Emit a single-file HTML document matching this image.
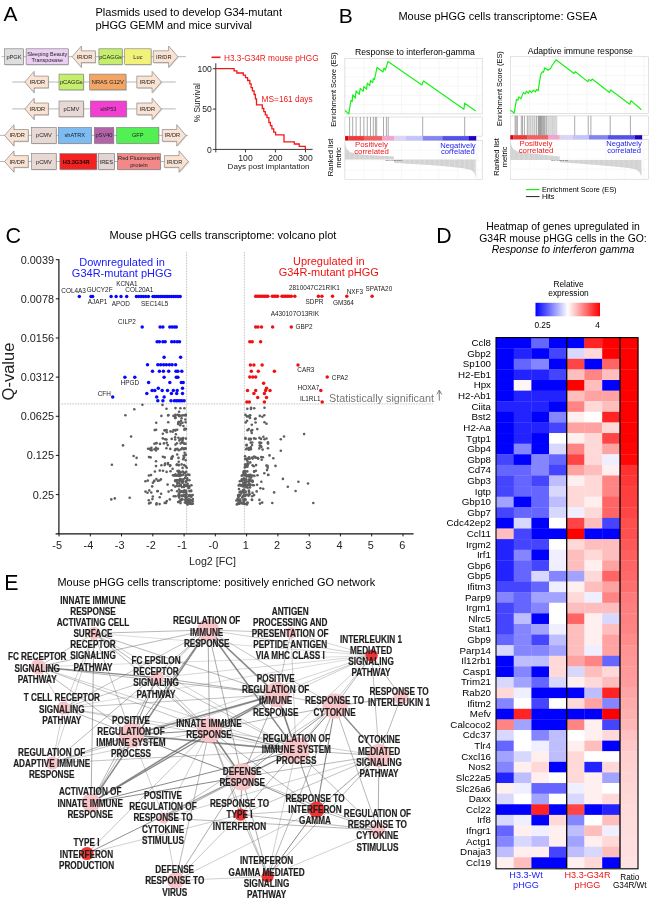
<!DOCTYPE html>
<html><head><meta charset="utf-8"><title>Figure</title>
<style>
html,body{margin:0;padding:0;background:#fff;}
svg{display:block;font-family:"Liberation Sans",sans-serif;}
</style></head><body>
<svg width="651" height="900" viewBox="0 0 651 900">
<rect width="651" height="900" fill="#fff"/>
<g id="panelA">
<text x="3.6" y="21.0" font-size="21">A</text>
<text x="95.5" y="15.5" font-size="11">Plasmids used to develop G34-mutant</text>
<text x="95.5" y="29.1" font-size="11">pHGG GEMM and mice survival</text>
<line x1="1.5" y1="56.7" x2="185.9" y2="56.7" stroke="#888" stroke-width="0.6"/>
<rect x="5.3" y="49.7" width="18.7" height="15.8" fill="#999" opacity="0.45"/>
<rect x="4.6" y="48.8" width="18.7" height="15.8" fill="#dedede" stroke="#777" stroke-width="0.6"/>
<text x="14.0" y="58.7" font-size="5.7" text-anchor="middle" fill="#222">pPGK</text>
<rect x="26.8" y="49.7" width="42.1" height="15.8" fill="#999" opacity="0.45"/>
<rect x="26.1" y="48.8" width="42.1" height="15.8" fill="#ecd0f4" stroke="#777" stroke-width="0.6"/>
<text x="47.2" y="55.5" font-size="5.5" text-anchor="middle" fill="#222">Sleeping Beauty</text>
<text x="47.2" y="62.1" font-size="5.5" text-anchor="middle" fill="#222">Transposase</text>
<polygon points="72.8,57.6 82.1,46.9 82.1,51.7 96.1,51.7 96.1,63.5 82.1,63.5 82.1,68.3" fill="#999" opacity="0.45"/>
<polygon points="72.1,56.7 81.4,46.0 81.4,50.8 95.4,50.8 95.4,62.6 81.4,62.6 81.4,67.4" fill="#fbe3d4" stroke="#777" stroke-width="0.6"/>
<text x="84.5" y="58.7" font-size="5.7" text-anchor="middle" fill="#222">IR/DR</text>
<rect x="99.6" y="49.7" width="23.3" height="15.8" fill="#999" opacity="0.45"/>
<rect x="98.9" y="48.8" width="23.3" height="15.8" fill="#c4ee6c" stroke="#777" stroke-width="0.6"/>
<text x="110.6" y="58.7" font-size="5.7" text-anchor="middle" fill="#222">pCAGGs</text>
<rect x="125.4" y="49.7" width="26.4" height="15.8" fill="#999" opacity="0.45"/>
<rect x="124.7" y="48.8" width="26.4" height="15.8" fill="#f2f27a" stroke="#777" stroke-width="0.6"/>
<text x="137.9" y="58.7" font-size="5.7" text-anchor="middle" fill="#222">Luc</text>
<polygon points="178.6,57.6 169.3,46.9 169.3,51.7 154.0,51.7 154.0,63.5 169.3,63.5 169.3,68.3" fill="#999" opacity="0.45"/>
<polygon points="177.9,56.7 168.6,46.0 168.6,50.8 153.3,50.8 153.3,62.6 168.6,62.6 168.6,67.4" fill="#fbe3d4" stroke="#777" stroke-width="0.6"/>
<text x="163.8" y="58.7" font-size="5.7" text-anchor="middle" fill="#222">IR/DR</text>
<line x1="12.3" y1="82.0" x2="175.7" y2="82.0" stroke="#888" stroke-width="0.6"/>
<polygon points="25.5,82.9 34.8,72.2 34.8,77.0 49.1,77.0 49.1,88.8 34.8,88.8 34.8,93.6" fill="#999" opacity="0.45"/>
<polygon points="24.8,82.0 34.1,71.3 34.1,76.1 48.4,76.1 48.4,87.9 34.1,87.9 34.1,92.7" fill="#fbe3d4" stroke="#777" stroke-width="0.6"/>
<text x="37.4" y="84.0" font-size="5.7" text-anchor="middle" fill="#222">IR/DR</text>
<rect x="59.7" y="75.0" width="24.6" height="15.8" fill="#999" opacity="0.45"/>
<rect x="59.0" y="74.1" width="24.6" height="15.8" fill="#c4ee6c" stroke="#777" stroke-width="0.6"/>
<text x="71.3" y="84.0" font-size="5.7" text-anchor="middle" fill="#222">pCAGGs</text>
<rect x="90.4" y="75.0" width="36.3" height="15.8" fill="#999" opacity="0.45"/>
<rect x="89.7" y="74.1" width="36.3" height="15.8" fill="#f2a564" stroke="#777" stroke-width="0.6"/>
<text x="107.8" y="84.0" font-size="5.7" text-anchor="middle" fill="#222">NRAS G12V</text>
<polygon points="162.1,82.9 152.8,72.2 152.8,77.0 137.5,77.0 137.5,88.8 152.8,88.8 152.8,93.6" fill="#999" opacity="0.45"/>
<polygon points="161.4,82.0 152.1,71.3 152.1,76.1 136.8,76.1 136.8,87.9 152.1,87.9 152.1,92.7" fill="#fbe3d4" stroke="#777" stroke-width="0.6"/>
<text x="147.3" y="84.0" font-size="5.7" text-anchor="middle" fill="#222">IR/DR</text>
<line x1="12.3" y1="108.9" x2="175.7" y2="108.9" stroke="#888" stroke-width="0.6"/>
<polygon points="25.5,109.8 34.8,99.1 34.8,103.9 49.1,103.9 49.1,115.7 34.8,115.7 34.8,120.5" fill="#999" opacity="0.45"/>
<polygon points="24.8,108.9 34.1,98.2 34.1,103.0 48.4,103.0 48.4,114.8 34.1,114.8 34.1,119.6" fill="#fbe3d4" stroke="#777" stroke-width="0.6"/>
<text x="37.4" y="110.9" font-size="5.7" text-anchor="middle" fill="#222">IR/DR</text>
<rect x="59.7" y="101.9" width="24.6" height="15.8" fill="#999" opacity="0.45"/>
<rect x="59.0" y="101.0" width="24.6" height="15.8" fill="#e8d8d4" stroke="#777" stroke-width="0.6"/>
<text x="71.3" y="110.9" font-size="5.7" text-anchor="middle" fill="#222">pCMV</text>
<rect x="91.0" y="101.9" width="36.3" height="15.8" fill="#999" opacity="0.45"/>
<rect x="90.3" y="101.0" width="36.3" height="15.8" fill="#f23fd2" stroke="#777" stroke-width="0.6"/>
<text x="108.4" y="110.9" font-size="5.7" text-anchor="middle" fill="#222">shP53</text>
<polygon points="162.1,109.8 152.8,99.1 152.8,103.9 137.5,103.9 137.5,115.7 152.8,115.7 152.8,120.5" fill="#999" opacity="0.45"/>
<polygon points="161.4,108.9 152.1,98.2 152.1,103.0 136.8,103.0 136.8,114.8 152.1,114.8 152.1,119.6" fill="#fbe3d4" stroke="#777" stroke-width="0.6"/>
<text x="147.3" y="110.9" font-size="5.7" text-anchor="middle" fill="#222">IR/DR</text>
<line x1="0.0" y1="135.4" x2="188.0" y2="135.4" stroke="#888" stroke-width="0.6"/>
<polygon points="5.3,136.3 14.6,125.6 14.6,130.4 29.0,130.4 29.0,142.2 14.6,142.2 14.6,147.0" fill="#999" opacity="0.45"/>
<polygon points="4.6,135.4 13.9,124.7 13.9,129.5 28.3,129.5 28.3,141.3 13.9,141.3 13.9,146.1" fill="#fbe3d4" stroke="#777" stroke-width="0.6"/>
<text x="17.2" y="137.4" font-size="5.7" text-anchor="middle" fill="#222">IR/DR</text>
<rect x="32.3" y="128.4" width="24.6" height="15.8" fill="#999" opacity="0.45"/>
<rect x="31.6" y="127.5" width="24.6" height="15.8" fill="#e8d8d4" stroke="#777" stroke-width="0.6"/>
<text x="43.9" y="137.4" font-size="5.7" text-anchor="middle" fill="#222">pCMV</text>
<rect x="59.1" y="128.4" width="32.9" height="15.8" fill="#999" opacity="0.45"/>
<rect x="58.4" y="127.5" width="32.9" height="15.8" fill="#7cbcf2" stroke="#777" stroke-width="0.6"/>
<text x="74.8" y="137.4" font-size="5.7" text-anchor="middle" fill="#222">shATRX</text>
<rect x="95.0" y="128.4" width="19.4" height="15.8" fill="#999" opacity="0.45"/>
<rect x="94.3" y="127.5" width="19.4" height="15.8" fill="#b363a8" stroke="#777" stroke-width="0.6"/>
<text x="104.0" y="137.4" font-size="5.7" text-anchor="middle" fill="#222">pSV40</text>
<rect x="117.4" y="128.4" width="42.1" height="15.8" fill="#999" opacity="0.45"/>
<rect x="116.7" y="127.5" width="42.1" height="15.8" fill="#52f052" stroke="#777" stroke-width="0.6"/>
<text x="137.8" y="137.4" font-size="5.7" text-anchor="middle" fill="#222">GFP</text>
<polygon points="186.7,136.3 177.4,125.6 177.4,130.4 163.0,130.4 163.0,142.2 177.4,142.2 177.4,147.0" fill="#999" opacity="0.45"/>
<polygon points="186.0,135.4 176.7,124.7 176.7,129.5 162.3,129.5 162.3,141.3 176.7,141.3 176.7,146.1" fill="#fbe3d4" stroke="#777" stroke-width="0.6"/>
<text x="172.4" y="137.4" font-size="5.7" text-anchor="middle" fill="#222">IR/DR</text>
<line x1="0.0" y1="161.5" x2="189.2" y2="161.5" stroke="#888" stroke-width="0.6"/>
<polygon points="5.3,162.4 14.6,151.7 14.6,156.5 29.0,156.5 29.0,168.3 14.6,168.3 14.6,173.1" fill="#999" opacity="0.45"/>
<polygon points="4.6,161.5 13.9,150.8 13.9,155.6 28.3,155.6 28.3,167.4 13.9,167.4 13.9,172.2" fill="#fbe3d4" stroke="#777" stroke-width="0.6"/>
<text x="17.2" y="163.5" font-size="5.7" text-anchor="middle" fill="#222">IR/DR</text>
<rect x="32.3" y="154.5" width="24.6" height="15.8" fill="#999" opacity="0.45"/>
<rect x="31.6" y="153.6" width="24.6" height="15.8" fill="#e8d8d4" stroke="#777" stroke-width="0.6"/>
<text x="43.9" y="163.5" font-size="5.7" text-anchor="middle" fill="#222">pCMV</text>
<rect x="60.6" y="154.5" width="36.9" height="15.8" fill="#999" opacity="0.45"/>
<rect x="59.9" y="153.6" width="36.9" height="15.8" fill="#f22222" stroke="#777" stroke-width="0.6"/>
<text x="76.3" y="163.5" font-size="5.7" text-anchor="middle" font-weight="bold" fill="#200">H3.3G34R</text>
<rect x="99.0" y="154.5" width="16.0" height="15.8" fill="#999" opacity="0.45"/>
<rect x="98.3" y="153.6" width="16.0" height="15.8" fill="#e4d4d4" stroke="#777" stroke-width="0.6"/>
<text x="106.3" y="163.5" font-size="5.7" text-anchor="middle" fill="#222">IRES</text>
<rect x="118.1" y="154.5" width="43.0" height="15.8" fill="#999" opacity="0.45"/>
<rect x="117.4" y="153.6" width="43.0" height="15.8" fill="#f28888" stroke="#777" stroke-width="0.6"/>
<text x="138.9" y="160.3" font-size="5.7" text-anchor="middle" fill="#222">Red Fluorescent</text>
<text x="138.9" y="166.9" font-size="5.7" text-anchor="middle" fill="#222">protein</text>
<polygon points="189.0,162.4 179.7,151.7 179.7,156.5 165.1,156.5 165.1,168.3 179.7,168.3 179.7,173.1" fill="#999" opacity="0.45"/>
<polygon points="188.3,161.5 179.0,150.8 179.0,155.6 164.4,155.6 164.4,167.4 179.0,167.4 179.0,172.2" fill="#fbe3d4" stroke="#777" stroke-width="0.6"/>
<text x="174.5" y="163.5" font-size="5.7" text-anchor="middle" fill="#222">IR/DR</text>
<path d="M215.8,63.3 V149.4 H312.6" fill="none" stroke="#222" stroke-width="0.9"/>
<line x1="212.8" y1="68.7" x2="215.8" y2="68.7" stroke="#222" stroke-width="0.9"/>
<text x="211.8" y="71.8" font-size="8.6" text-anchor="end" fill="#222">100</text>
<line x1="212.8" y1="109.1" x2="215.8" y2="109.1" stroke="#222" stroke-width="0.9"/>
<text x="211.8" y="112.2" font-size="8.6" text-anchor="end" fill="#222">50</text>
<line x1="212.8" y1="149.4" x2="215.8" y2="149.4" stroke="#222" stroke-width="0.9"/>
<text x="211.8" y="152.5" font-size="8.6" text-anchor="end" fill="#222">0</text>
<line x1="215.8" y1="149.4" x2="215.8" y2="152.4" stroke="#222" stroke-width="0.9"/>
<line x1="245.5" y1="149.4" x2="245.5" y2="152.4" stroke="#222" stroke-width="0.9"/>
<text x="245.5" y="160.7" font-size="8.6" text-anchor="middle" fill="#222">100</text>
<line x1="275.4" y1="149.4" x2="275.4" y2="152.4" stroke="#222" stroke-width="0.9"/>
<text x="275.4" y="160.7" font-size="8.6" text-anchor="middle" fill="#222">200</text>
<line x1="305.5" y1="149.4" x2="305.5" y2="152.4" stroke="#222" stroke-width="0.9"/>
<text x="305.5" y="160.7" font-size="8.6" text-anchor="middle" fill="#222">300</text>
<text x="268.5" y="169.4" font-size="8.1" text-anchor="middle" fill="#222">Days post implantation</text>
<text transform="translate(199.8,102.7) rotate(-90)" font-size="8.3" text-anchor="middle" fill="#222">% Survival</text>
<path d="M215.8,68.7 L234.1,68.7 L234.1,70.9 L236.9,70.9 L236.9,73.0 L243.3,73.0 L243.3,75.2 L245.5,75.2 L245.5,77.7 L247.6,77.7 L247.6,80.5 L249.8,80.5 L249.8,83.8 L251.1,83.8 L251.1,87.6 L252.4,87.6 L252.4,90.9 L254.1,90.9 L254.1,94.5 L255.4,94.5 L255.4,98.8 L256.5,98.8 L256.5,104.8 L262.3,104.8 L262.3,108.5 L263.8,108.5 L263.8,111.7 L265.3,111.7 L265.3,114.9 L267.0,114.9 L267.0,117.7 L268.9,117.7 L268.9,122.5 L270.4,122.5 L270.4,125.7 L271.9,125.7 L271.9,128.9 L273.7,128.9 L273.7,132.2 L275.6,132.2 L275.6,134.9 L284.0,134.9 L284.0,141.8 L294.3,141.8 L294.3,144.0 L299.2,144.0 L299.2,146.3 L305.3,146.3 L305.3,149.4" fill="none" stroke="#f01818" stroke-width="1.3" stroke-linejoin="miter"/>
<line x1="211.5" y1="57.3" x2="220.5" y2="57.3" stroke="#f01818" stroke-width="1.6"/>
<text x="224.0" y="60.9" font-size="8.27" fill="#f01818">H3.3-G34R mouse pHGG</text>
<text x="261.6" y="101.6" font-size="8.3" fill="#f01818">MS=161 days</text>
</g>
<g id="panelB">
<text x="338.8" y="23.3" font-size="21">B</text>
<text x="398.4" y="19.5" font-size="11">Mouse pHGG cells transcriptome: GSEA</text>
<text x="414.9" y="55.0" font-size="8.7" text-anchor="middle">Response to interferon-gamma</text>
<line x1="363.9" y1="58.5" x2="363.9" y2="113.9" stroke="#ebebeb" stroke-width="0.4"/>
<line x1="363.9" y1="140.5" x2="363.9" y2="179.7" stroke="#ebebeb" stroke-width="0.4"/>
<line x1="382.7" y1="58.5" x2="382.7" y2="113.9" stroke="#ebebeb" stroke-width="0.4"/>
<line x1="382.7" y1="140.5" x2="382.7" y2="179.7" stroke="#ebebeb" stroke-width="0.4"/>
<line x1="401.5" y1="58.5" x2="401.5" y2="113.9" stroke="#ebebeb" stroke-width="0.4"/>
<line x1="401.5" y1="140.5" x2="401.5" y2="179.7" stroke="#ebebeb" stroke-width="0.4"/>
<line x1="420.3" y1="58.5" x2="420.3" y2="113.9" stroke="#ebebeb" stroke-width="0.4"/>
<line x1="420.3" y1="140.5" x2="420.3" y2="179.7" stroke="#ebebeb" stroke-width="0.4"/>
<line x1="439.1" y1="58.5" x2="439.1" y2="113.9" stroke="#ebebeb" stroke-width="0.4"/>
<line x1="439.1" y1="140.5" x2="439.1" y2="179.7" stroke="#ebebeb" stroke-width="0.4"/>
<line x1="457.9" y1="58.5" x2="457.9" y2="113.9" stroke="#ebebeb" stroke-width="0.4"/>
<line x1="457.9" y1="140.5" x2="457.9" y2="179.7" stroke="#ebebeb" stroke-width="0.4"/>
<line x1="476.7" y1="58.5" x2="476.7" y2="113.9" stroke="#ebebeb" stroke-width="0.4"/>
<line x1="476.7" y1="140.5" x2="476.7" y2="179.7" stroke="#ebebeb" stroke-width="0.4"/>
<line x1="344.9" y1="67.8" x2="482.2" y2="67.8" stroke="#ebebeb" stroke-width="0.4"/>
<line x1="344.9" y1="77.0" x2="482.2" y2="77.0" stroke="#ebebeb" stroke-width="0.4"/>
<line x1="344.9" y1="86.2" x2="482.2" y2="86.2" stroke="#ebebeb" stroke-width="0.4"/>
<line x1="344.9" y1="95.4" x2="482.2" y2="95.4" stroke="#ebebeb" stroke-width="0.4"/>
<line x1="344.9" y1="104.7" x2="482.2" y2="104.7" stroke="#ebebeb" stroke-width="0.4"/>
<line x1="344.9" y1="150.3" x2="482.2" y2="150.3" stroke="#ebebeb" stroke-width="0.4"/>
<line x1="344.9" y1="160.1" x2="482.2" y2="160.1" stroke="#ebebeb" stroke-width="0.4"/>
<line x1="344.9" y1="169.9" x2="482.2" y2="169.9" stroke="#ebebeb" stroke-width="0.4"/>
<rect x="344.9" y="58.5" width="137.3" height="55.4" fill="none" stroke="#c4c4c4" stroke-width="0.5"/>
<rect x="344.9" y="117.0" width="137.3" height="19.1" fill="none" stroke="#c4c4c4" stroke-width="0.5"/>
<rect x="344.9" y="140.5" width="137.3" height="39.2" fill="none" stroke="#c4c4c4" stroke-width="0.5"/>
<path d="M345.1,159.6 L345.1,142.6 L345.9,146.5 L347.2,149.7 L350.4,152.3 L356.1,153.8 L366.6,154.9 L382.2,155.7 L394.0,156.4 L394.0,159.6 L394.0,162.7 L408.3,163.8 L429.2,165.1 L447.5,166.6 L463.2,168.2 L471.0,170.0 L474.1,172.6 L475.7,177.6 L475.7,159.6 Z" fill="#c4c4c4"/>
<path d="M345.74,140.5V179.7M346.99,140.5V179.7M348.24,140.5V179.7M349.49,140.5V179.7M350.74,140.5V179.7M351.99,140.5V179.7M353.24,140.5V179.7M354.49,140.5V179.7M355.74,140.5V179.7M356.99,140.5V179.7M358.24,140.5V179.7M359.49,140.5V179.7M360.74,140.5V179.7M361.99,140.5V179.7M363.24,140.5V179.7M364.49,140.5V179.7M365.74,140.5V179.7M366.99,140.5V179.7M368.24,140.5V179.7M369.49,140.5V179.7M370.74,140.5V179.7M371.99,140.5V179.7M373.24,140.5V179.7M374.49,140.5V179.7M375.74,140.5V179.7M376.99,140.5V179.7M378.24,140.5V179.7M379.49,140.5V179.7M380.74,140.5V179.7M381.99,140.5V179.7M383.24,140.5V179.7M384.49,140.5V179.7M385.74,140.5V179.7M386.99,140.5V179.7M388.24,140.5V179.7M389.49,140.5V179.7M390.74,140.5V179.7M391.99,140.5V179.7M393.24,140.5V179.7M394.49,140.5V179.7M395.74,140.5V179.7M396.99,140.5V179.7M398.24,140.5V179.7M399.49,140.5V179.7M400.74,140.5V179.7M401.99,140.5V179.7M403.24,140.5V179.7M404.49,140.5V179.7M405.74,140.5V179.7M406.99,140.5V179.7M408.24,140.5V179.7M409.49,140.5V179.7M410.74,140.5V179.7M411.99,140.5V179.7M413.24,140.5V179.7M414.49,140.5V179.7M415.74,140.5V179.7M416.99,140.5V179.7M418.24,140.5V179.7M419.49,140.5V179.7M420.74,140.5V179.7M421.99,140.5V179.7M423.24,140.5V179.7M424.49,140.5V179.7M425.74,140.5V179.7M426.99,140.5V179.7M428.24,140.5V179.7M429.49,140.5V179.7M430.74,140.5V179.7M431.99,140.5V179.7M433.24,140.5V179.7M434.49,140.5V179.7M435.74,140.5V179.7M436.99,140.5V179.7M438.24,140.5V179.7M439.49,140.5V179.7M440.74,140.5V179.7M441.99,140.5V179.7M443.24,140.5V179.7M444.49,140.5V179.7M445.74,140.5V179.7M446.99,140.5V179.7M448.24,140.5V179.7M449.49,140.5V179.7M450.74,140.5V179.7M451.99,140.5V179.7M453.24,140.5V179.7M454.49,140.5V179.7M455.74,140.5V179.7M456.99,140.5V179.7M458.24,140.5V179.7M459.49,140.5V179.7M460.74,140.5V179.7M461.99,140.5V179.7M463.24,140.5V179.7M464.49,140.5V179.7M465.74,140.5V179.7M466.99,140.5V179.7M468.24,140.5V179.7M469.49,140.5V179.7M470.74,140.5V179.7M471.99,140.5V179.7M473.24,140.5V179.7M474.49,140.5V179.7M475.74,140.5V179.7" stroke="#fff" stroke-width="0.45" opacity="0.85" fill="none"/>
<text x="394.0" y="160.5" font-size="2.2" text-anchor="middle" fill="#333">Zero cross at 190</text>
<rect x="345.14" y="136.1" width="3.18" height="4.4" fill="#d80000"/>
<rect x="348.28" y="136.1" width="15.72" height="4.4" fill="#ee3a3a"/>
<rect x="363.94" y="136.1" width="18.33" height="4.4" fill="#f26060"/>
<rect x="382.22" y="136.1" width="11.80" height="4.4" fill="#f2a4cc"/>
<rect x="393.97" y="136.1" width="11.80" height="4.4" fill="#dcd4f8"/>
<rect x="405.72" y="136.1" width="17.02" height="4.4" fill="#c4c4fc"/>
<rect x="422.69" y="136.1" width="19.63" height="4.4" fill="#8484f2"/>
<rect x="442.27" y="136.1" width="26.16" height="4.4" fill="#5252e8"/>
<rect x="468.38" y="136.1" width="7.88" height="4.4" fill="#2000c4"/>
<path d="M349.6,117.0V136.1M352.7,117.0V136.1M356.1,117.0V136.1M360.3,117.0V136.1M363.9,117.0V136.1M367.3,117.0V136.1M370.5,117.0V136.1M373.3,117.0V136.1M375.4,117.0V136.1M376.7,117.0V136.1M383.5,117.0V136.1M386.4,117.0V136.1M388.2,117.0V136.1M422.7,117.0V136.1M464.7,117.0V136.1" stroke="#222" stroke-width="0.45" fill="none" opacity="0.85"/>
<path d="M345.1,110.5 L348.8,113.9 L350.9,100.6 L352.2,101.6 L352.7,94.8 L355.3,98.0 L356.1,90.9 L359.2,94.3 L360.3,88.3 L363.2,91.4 L363.9,86.5 L366.6,89.1 L367.3,83.1 L369.7,85.7 L370.5,80.5 L372.6,82.6 L373.3,78.6 L374.4,79.7 L375.7,73.9 L377.0,67.4 L383.0,71.9 L384.0,68.2 L385.4,70.0 L386.7,65.6 L388.0,61.4 L421.9,84.9 L423.5,81.0 L463.9,109.2 L464.7,103.2 L475.7,111.0" fill="none" stroke="#14f414" stroke-width="1.2" stroke-linejoin="round"/>
<text transform="translate(335.7,89.5) rotate(-90)" font-size="7.3" text-anchor="middle" fill="#000">Enrichment Score (ES)</text>
<text transform="translate(333.4,157.5) rotate(-90)" font-size="7.6" text-anchor="middle" fill="#000">Ranked list</text>
<text transform="translate(341.0,157.5) rotate(-90)" font-size="7.6" text-anchor="middle" fill="#000">metric</text>
<text x="371.5" y="147.0" font-size="7.8" text-anchor="middle" fill="#f01818">Positively</text>
<text x="371.5" y="154.1" font-size="7.8" text-anchor="middle" fill="#f01818">correlated</text>
<text x="457.9" y="147.6" font-size="7.6" text-anchor="middle" fill="#2222ee">Negatively</text>
<text x="457.9" y="154.4" font-size="7.6" text-anchor="middle" fill="#2222ee">correlated</text>
<text x="580.3" y="54.2" font-size="8.7" text-anchor="middle">Adaptive immune response</text>
<line x1="529.6" y1="56.8" x2="529.6" y2="113.5" stroke="#ebebeb" stroke-width="0.4"/>
<line x1="529.6" y1="139.4" x2="529.6" y2="179.3" stroke="#ebebeb" stroke-width="0.4"/>
<line x1="548.6" y1="56.8" x2="548.6" y2="113.5" stroke="#ebebeb" stroke-width="0.4"/>
<line x1="548.6" y1="139.4" x2="548.6" y2="179.3" stroke="#ebebeb" stroke-width="0.4"/>
<line x1="567.7" y1="56.8" x2="567.7" y2="113.5" stroke="#ebebeb" stroke-width="0.4"/>
<line x1="567.7" y1="139.4" x2="567.7" y2="179.3" stroke="#ebebeb" stroke-width="0.4"/>
<line x1="586.7" y1="56.8" x2="586.7" y2="113.5" stroke="#ebebeb" stroke-width="0.4"/>
<line x1="586.7" y1="139.4" x2="586.7" y2="179.3" stroke="#ebebeb" stroke-width="0.4"/>
<line x1="605.8" y1="56.8" x2="605.8" y2="113.5" stroke="#ebebeb" stroke-width="0.4"/>
<line x1="605.8" y1="139.4" x2="605.8" y2="179.3" stroke="#ebebeb" stroke-width="0.4"/>
<line x1="624.8" y1="56.8" x2="624.8" y2="113.5" stroke="#ebebeb" stroke-width="0.4"/>
<line x1="624.8" y1="139.4" x2="624.8" y2="179.3" stroke="#ebebeb" stroke-width="0.4"/>
<line x1="643.8" y1="56.8" x2="643.8" y2="113.5" stroke="#ebebeb" stroke-width="0.4"/>
<line x1="643.8" y1="139.4" x2="643.8" y2="179.3" stroke="#ebebeb" stroke-width="0.4"/>
<line x1="510.3" y1="66.3" x2="648.3" y2="66.3" stroke="#ebebeb" stroke-width="0.4"/>
<line x1="510.3" y1="75.7" x2="648.3" y2="75.7" stroke="#ebebeb" stroke-width="0.4"/>
<line x1="510.3" y1="85.1" x2="648.3" y2="85.1" stroke="#ebebeb" stroke-width="0.4"/>
<line x1="510.3" y1="94.6" x2="648.3" y2="94.6" stroke="#ebebeb" stroke-width="0.4"/>
<line x1="510.3" y1="104.0" x2="648.3" y2="104.0" stroke="#ebebeb" stroke-width="0.4"/>
<line x1="510.3" y1="149.4" x2="648.3" y2="149.4" stroke="#ebebeb" stroke-width="0.4"/>
<line x1="510.3" y1="159.3" x2="648.3" y2="159.3" stroke="#ebebeb" stroke-width="0.4"/>
<line x1="510.3" y1="169.3" x2="648.3" y2="169.3" stroke="#ebebeb" stroke-width="0.4"/>
<rect x="510.3" y="56.8" width="138.0" height="56.6" fill="none" stroke="#c4c4c4" stroke-width="0.5"/>
<rect x="510.3" y="115.9" width="138.0" height="19.3" fill="none" stroke="#c4c4c4" stroke-width="0.5"/>
<rect x="510.3" y="139.4" width="138.0" height="39.8" fill="none" stroke="#c4c4c4" stroke-width="0.5"/>
<path d="M510.3,160.0 L510.3,139.9 L511.3,145.1 L513.0,148.8 L516.7,151.3 L523.1,152.5 L537.0,154.0 L549.4,155.5 L559.8,156.5 L559.8,160.0 L559.8,162.2 L574.1,163.2 L593.9,164.7 L613.7,166.4 L628.5,167.9 L635.9,169.6 L639.4,172.1 L641.4,176.5 L641.4,160.0 Z" fill="#c4c4c4"/>
<path d="M510.88,139.4V179.3M512.13,139.4V179.3M513.38,139.4V179.3M514.63,139.4V179.3M515.88,139.4V179.3M517.13,139.4V179.3M518.38,139.4V179.3M519.63,139.4V179.3M520.88,139.4V179.3M522.13,139.4V179.3M523.38,139.4V179.3M524.63,139.4V179.3M525.88,139.4V179.3M527.13,139.4V179.3M528.38,139.4V179.3M529.63,139.4V179.3M530.88,139.4V179.3M532.13,139.4V179.3M533.38,139.4V179.3M534.63,139.4V179.3M535.88,139.4V179.3M537.13,139.4V179.3M538.38,139.4V179.3M539.63,139.4V179.3M540.88,139.4V179.3M542.13,139.4V179.3M543.38,139.4V179.3M544.63,139.4V179.3M545.88,139.4V179.3M547.13,139.4V179.3M548.38,139.4V179.3M549.63,139.4V179.3M550.88,139.4V179.3M552.13,139.4V179.3M553.38,139.4V179.3M554.63,139.4V179.3M555.88,139.4V179.3M557.13,139.4V179.3M558.38,139.4V179.3M559.63,139.4V179.3M560.88,139.4V179.3M562.13,139.4V179.3M563.38,139.4V179.3M564.63,139.4V179.3M565.88,139.4V179.3M567.13,139.4V179.3M568.38,139.4V179.3M569.63,139.4V179.3M570.88,139.4V179.3M572.13,139.4V179.3M573.38,139.4V179.3M574.63,139.4V179.3M575.88,139.4V179.3M577.13,139.4V179.3M578.38,139.4V179.3M579.63,139.4V179.3M580.88,139.4V179.3M582.13,139.4V179.3M583.38,139.4V179.3M584.63,139.4V179.3M585.88,139.4V179.3M587.13,139.4V179.3M588.38,139.4V179.3M589.63,139.4V179.3M590.88,139.4V179.3M592.13,139.4V179.3M593.38,139.4V179.3M594.63,139.4V179.3M595.88,139.4V179.3M597.13,139.4V179.3M598.38,139.4V179.3M599.63,139.4V179.3M600.88,139.4V179.3M602.13,139.4V179.3M603.38,139.4V179.3M604.63,139.4V179.3M605.88,139.4V179.3M607.13,139.4V179.3M608.38,139.4V179.3M609.63,139.4V179.3M610.88,139.4V179.3M612.13,139.4V179.3M613.38,139.4V179.3M614.63,139.4V179.3M615.88,139.4V179.3M617.13,139.4V179.3M618.38,139.4V179.3M619.63,139.4V179.3M620.88,139.4V179.3M622.13,139.4V179.3M623.38,139.4V179.3M624.63,139.4V179.3M625.88,139.4V179.3M627.13,139.4V179.3M628.38,139.4V179.3M629.63,139.4V179.3M630.88,139.4V179.3M632.13,139.4V179.3M633.38,139.4V179.3M634.63,139.4V179.3M635.88,139.4V179.3M637.13,139.4V179.3M638.38,139.4V179.3M639.63,139.4V179.3M640.88,139.4V179.3" stroke="#fff" stroke-width="0.45" opacity="0.85" fill="none"/>
<text x="559.8" y="160.9" font-size="2.2" text-anchor="middle" fill="#333">Zero cross at 190</text>
<rect x="510.28" y="135.2" width="3.27" height="4.2" fill="#d80000"/>
<rect x="513.50" y="135.2" width="13.65" height="4.2" fill="#ee3a3a"/>
<rect x="527.10" y="135.2" width="21.07" height="4.2" fill="#f26060"/>
<rect x="548.13" y="135.2" width="11.68" height="4.2" fill="#f2a4cc"/>
<rect x="559.75" y="135.2" width="13.16" height="4.2" fill="#dcd4f8"/>
<rect x="572.86" y="135.2" width="16.13" height="4.2" fill="#c4c4fc"/>
<rect x="588.94" y="135.2" width="18.60" height="4.2" fill="#8484f2"/>
<rect x="607.49" y="135.2" width="27.26" height="4.2" fill="#5252e8"/>
<rect x="634.69" y="135.2" width="7.47" height="4.2" fill="#2000c4"/>
<path d="M515.1,115.9V135.2M516.2,115.9V135.2M517.4,115.9V135.2M521.3,115.9V135.2M522.5,115.9V135.2M524.4,115.9V135.2M527.3,115.9V135.2M529.0,115.9V135.2M530.9,115.9V135.2M532.9,115.9V135.2M534.8,115.9V135.2M536.6,115.9V135.2M538.3,115.9V135.2M539.0,115.9V135.2M539.7,115.9V135.2M540.6,115.9V135.2M541.3,115.9V135.2M542.2,115.9V135.2M543.2,115.9V135.2M544.1,115.9V135.2M545.0,115.9V135.2M546.4,115.9V135.2M574.7,115.9V135.2M588.2,115.9V135.2M590.9,115.9V135.2M610.2,115.9V135.2M630.4,115.9V135.2" stroke="#222" stroke-width="0.45" fill="none" opacity="0.85"/>
<path d="M547.6,115.9V135.2M548.4,115.9V135.2M549.2,115.9V135.2M550.1,115.9V135.2M550.9,115.9V135.2M551.8,115.9V135.2M552.6,115.9V135.2M553.4,115.9V135.2M554.3,115.9V135.2M555.1,115.9V135.2M556.0,115.9V135.2M556.8,115.9V135.2" stroke="#222" stroke-width="0.4" fill="none" opacity="0.4"/>
<path d="M510.3,110.0 L514.2,113.0 L516.5,99.4 L517.9,100.1 L518.9,96.9 L520.9,98.9 L523.4,92.4 L525.1,93.9 L526.4,91.2 L528.3,93.2 L529.6,90.7 L531.6,92.7 L533.3,90.2 L535.3,91.9 L536.5,89.5 L538.2,90.7 L539.5,82.0 L540.7,74.6 L542.4,71.7 L543.4,72.2 L544.9,67.7 L548.1,70.2 L550.6,68.4 L551.8,66.0 L556.0,59.8 L574.1,73.4 L575.3,71.7 L587.7,81.6 L588.9,79.6 L590.9,80.8 L592.2,79.1 L609.5,92.4 L610.7,90.0 L629.7,104.3 L631.0,100.6 L641.4,109.8" fill="none" stroke="#14f414" stroke-width="1.2" stroke-linejoin="round"/>
<text transform="translate(501.6,88.6) rotate(-90)" font-size="7.3" text-anchor="middle" fill="#000">Enrichment Score (ES)</text>
<text transform="translate(499.4,156.9) rotate(-90)" font-size="7.6" text-anchor="middle" fill="#000">Ranked list</text>
<text transform="translate(506.6,156.9) rotate(-90)" font-size="7.6" text-anchor="middle" fill="#000">metric</text>
<text x="536.0" y="145.9" font-size="7.8" text-anchor="middle" fill="#f01818">Positively</text>
<text x="536.0" y="152.5" font-size="7.8" text-anchor="middle" fill="#f01818">correlated</text>
<text x="624.1" y="146.4" font-size="7.6" text-anchor="middle" fill="#2222ee">Negatively</text>
<text x="624.1" y="152.8" font-size="7.6" text-anchor="middle" fill="#2222ee">correlated</text>
<line x1="525.9" y1="189.6" x2="539.5" y2="189.6" stroke="#14f414" stroke-width="1.2"/>
<line x1="525.9" y1="196.6" x2="539.5" y2="196.6" stroke="#222" stroke-width="1"/>
<text x="541.9" y="192.4" font-size="7.3">Enrichment Score (ES)</text>
<text x="541.9" y="199.3" font-size="7.3">Hits</text>
</g>
<g id="panelC">
<text x="5.4" y="243.2" font-size="21.5">C</text>
<text x="109.5" y="238.8" font-size="11">Mouse pHGG cells transcriptome: volcano plot</text>
<path d="M58.9,259.2 V533.8 M55.6,533.8 H413.6" fill="none" stroke="#151515" stroke-width="1.2"/>
<line x1="55.8" y1="259.7" x2="59" y2="259.7" stroke="#151515" stroke-width="1"/>
<text x="54.0" y="263.6" font-size="10.9" text-anchor="end" fill="#222">0.0039</text>
<line x1="55.8" y1="298.8" x2="59" y2="298.8" stroke="#151515" stroke-width="1"/>
<text x="54.0" y="302.7" font-size="10.9" text-anchor="end" fill="#222">0.0078</text>
<line x1="55.8" y1="338.0" x2="59" y2="338.0" stroke="#151515" stroke-width="1"/>
<text x="54.0" y="341.9" font-size="10.9" text-anchor="end" fill="#222">0.0156</text>
<line x1="55.8" y1="377.1" x2="59" y2="377.1" stroke="#151515" stroke-width="1"/>
<text x="54.0" y="381.0" font-size="10.9" text-anchor="end" fill="#222">0.0312</text>
<line x1="55.8" y1="416.3" x2="59" y2="416.3" stroke="#151515" stroke-width="1"/>
<text x="54.0" y="420.2" font-size="10.9" text-anchor="end" fill="#222">0.0625</text>
<line x1="55.8" y1="455.4" x2="59" y2="455.4" stroke="#151515" stroke-width="1"/>
<text x="54.0" y="459.3" font-size="10.9" text-anchor="end" fill="#222">0.125</text>
<line x1="55.8" y1="494.6" x2="59" y2="494.6" stroke="#151515" stroke-width="1"/>
<text x="54.0" y="498.5" font-size="10.9" text-anchor="end" fill="#222">0.25</text>
<line x1="59.0" y1="533.8" x2="59.0" y2="536.4" stroke="#151515" stroke-width="1"/>
<text x="57.1" y="549.4" font-size="10.9" text-anchor="middle" fill="#222">-5</text>
<line x1="90.3" y1="533.8" x2="90.3" y2="536.4" stroke="#151515" stroke-width="1"/>
<text x="88.4" y="549.4" font-size="10.9" text-anchor="middle" fill="#222">-4</text>
<line x1="121.5" y1="533.8" x2="121.5" y2="536.4" stroke="#151515" stroke-width="1"/>
<text x="119.6" y="549.4" font-size="10.9" text-anchor="middle" fill="#222">-3</text>
<line x1="152.8" y1="533.8" x2="152.8" y2="536.4" stroke="#151515" stroke-width="1"/>
<text x="150.9" y="549.4" font-size="10.9" text-anchor="middle" fill="#222">-2</text>
<line x1="184.1" y1="533.8" x2="184.1" y2="536.4" stroke="#151515" stroke-width="1"/>
<text x="182.2" y="549.4" font-size="10.9" text-anchor="middle" fill="#222">-1</text>
<line x1="215.3" y1="533.8" x2="215.3" y2="536.4" stroke="#151515" stroke-width="1"/>
<text x="213.4" y="549.4" font-size="10.9" text-anchor="middle" fill="#222">-0</text>
<line x1="246.6" y1="533.8" x2="246.6" y2="536.4" stroke="#151515" stroke-width="1"/>
<text x="245.8" y="549.4" font-size="10.9" text-anchor="middle" fill="#222">1</text>
<line x1="277.9" y1="533.8" x2="277.9" y2="536.4" stroke="#151515" stroke-width="1"/>
<text x="277.1" y="549.4" font-size="10.9" text-anchor="middle" fill="#222">2</text>
<line x1="309.2" y1="533.8" x2="309.2" y2="536.4" stroke="#151515" stroke-width="1"/>
<text x="308.4" y="549.4" font-size="10.9" text-anchor="middle" fill="#222">3</text>
<line x1="340.4" y1="533.8" x2="340.4" y2="536.4" stroke="#151515" stroke-width="1"/>
<text x="339.6" y="549.4" font-size="10.9" text-anchor="middle" fill="#222">4</text>
<line x1="371.7" y1="533.8" x2="371.7" y2="536.4" stroke="#151515" stroke-width="1"/>
<text x="370.9" y="549.4" font-size="10.9" text-anchor="middle" fill="#222">5</text>
<line x1="403.0" y1="533.8" x2="403.0" y2="536.4" stroke="#151515" stroke-width="1"/>
<text x="402.2" y="549.4" font-size="10.9" text-anchor="middle" fill="#222">6</text>
<text x="212.5" y="564.5" font-size="10.7" text-anchor="middle" fill="#222">Log2 [FC]</text>
<text transform="translate(14.3,371.5) rotate(-90)" font-size="16.5" text-anchor="middle" fill="#222">Q-value</text>
<line x1="186.6" y1="252" x2="186.6" y2="533.8" stroke="#a8a8a8" stroke-width="0.8" stroke-dasharray="0.8,0.8"/>
<line x1="244.4" y1="252" x2="244.4" y2="533.8" stroke="#a8a8a8" stroke-width="0.8" stroke-dasharray="0.8,0.8"/>
<line x1="59" y1="403.9" x2="433" y2="403.9" stroke="#a8a8a8" stroke-width="0.8" stroke-dasharray="0.8,0.8"/>
<g fill="#5e5e5e"><circle cx="149.0" cy="457.0" r="1.3"/><circle cx="164.6" cy="430.3" r="1.3"/><circle cx="185.3" cy="419.5" r="1.3"/><circle cx="156.4" cy="479.0" r="1.3"/><circle cx="180.5" cy="475.1" r="1.3"/><circle cx="186.0" cy="429.0" r="1.3"/><circle cx="165.1" cy="463.6" r="1.3"/><circle cx="136.6" cy="457.9" r="1.3"/><circle cx="177.1" cy="491.3" r="1.3"/><circle cx="175.2" cy="486.6" r="1.3"/><circle cx="166.5" cy="408.7" r="1.3"/><circle cx="161.4" cy="415.9" r="1.3"/><circle cx="187.6" cy="500.2" r="1.3"/><circle cx="184.4" cy="485.8" r="1.3"/><circle cx="182.5" cy="422.8" r="1.3"/><circle cx="178.1" cy="502.1" r="1.3"/><circle cx="170.5" cy="431.4" r="1.3"/><circle cx="173.6" cy="430.0" r="1.3"/><circle cx="179.0" cy="415.0" r="1.3"/><circle cx="186.9" cy="501.2" r="1.3"/><circle cx="166.6" cy="430.1" r="1.3"/><circle cx="175.1" cy="437.3" r="1.3"/><circle cx="156.1" cy="429.8" r="1.3"/><circle cx="179.1" cy="411.8" r="1.3"/><circle cx="165.1" cy="439.2" r="1.3"/><circle cx="179.4" cy="416.1" r="1.3"/><circle cx="166.6" cy="471.9" r="1.3"/><circle cx="184.0" cy="457.5" r="1.3"/><circle cx="148.1" cy="448.8" r="1.3"/><circle cx="182.4" cy="482.4" r="1.3"/><circle cx="189.4" cy="480.2" r="1.3"/><circle cx="183.6" cy="443.1" r="1.3"/><circle cx="152.9" cy="482.8" r="1.3"/><circle cx="151.4" cy="447.7" r="1.3"/><circle cx="150.6" cy="457.4" r="1.3"/><circle cx="184.0" cy="472.7" r="1.3"/><circle cx="179.0" cy="480.1" r="1.3"/><circle cx="185.8" cy="415.0" r="1.3"/><circle cx="181.6" cy="479.5" r="1.3"/><circle cx="183.2" cy="438.0" r="1.3"/><circle cx="166.8" cy="432.3" r="1.3"/><circle cx="172.8" cy="456.4" r="1.3"/><circle cx="172.7" cy="431.8" r="1.3"/><circle cx="186.0" cy="496.1" r="1.3"/><circle cx="157.3" cy="491.2" r="1.3"/><circle cx="180.8" cy="438.9" r="1.3"/><circle cx="184.8" cy="473.1" r="1.3"/><circle cx="192.8" cy="503.7" r="1.3"/><circle cx="175.2" cy="480.3" r="1.3"/><circle cx="180.4" cy="408.3" r="1.3"/><circle cx="178.6" cy="422.1" r="1.3"/><circle cx="157.8" cy="491.0" r="1.3"/><circle cx="175.5" cy="408.1" r="1.3"/><circle cx="160.9" cy="479.4" r="1.3"/><circle cx="150.6" cy="449.9" r="1.3"/><circle cx="178.1" cy="423.9" r="1.3"/><circle cx="151.7" cy="450.2" r="1.3"/><circle cx="185.4" cy="499.9" r="1.3"/><circle cx="178.6" cy="474.5" r="1.3"/><circle cx="166.0" cy="502.9" r="1.3"/><circle cx="154.4" cy="443.7" r="1.3"/><circle cx="164.7" cy="465.1" r="1.3"/><circle cx="188.3" cy="488.1" r="1.3"/><circle cx="180.2" cy="425.2" r="1.3"/><circle cx="145.5" cy="491.6" r="1.3"/><circle cx="175.9" cy="434.3" r="1.3"/><circle cx="151.0" cy="475.1" r="1.3"/><circle cx="182.2" cy="491.9" r="1.3"/><circle cx="164.7" cy="502.9" r="1.3"/><circle cx="159.8" cy="470.6" r="1.3"/><circle cx="177.0" cy="464.5" r="1.3"/><circle cx="180.7" cy="500.5" r="1.3"/><circle cx="168.6" cy="491.6" r="1.3"/><circle cx="180.7" cy="500.2" r="1.3"/><circle cx="186.0" cy="481.9" r="1.3"/><circle cx="178.8" cy="422.1" r="1.3"/><circle cx="180.9" cy="449.2" r="1.3"/><circle cx="148.9" cy="475.5" r="1.3"/><circle cx="147.8" cy="480.6" r="1.3"/><circle cx="154.7" cy="430.1" r="1.3"/><circle cx="171.7" cy="438.9" r="1.3"/><circle cx="185.3" cy="448.5" r="1.3"/><circle cx="188.2" cy="501.9" r="1.3"/><circle cx="178.8" cy="465.2" r="1.3"/><circle cx="161.4" cy="465.2" r="1.3"/><circle cx="147.5" cy="492.7" r="1.3"/><circle cx="171.8" cy="457.1" r="1.3"/><circle cx="177.5" cy="471.0" r="1.3"/><circle cx="175.4" cy="430.1" r="1.3"/><circle cx="168.0" cy="463.0" r="1.3"/><circle cx="159.4" cy="480.5" r="1.3"/><circle cx="180.5" cy="503.1" r="1.3"/><circle cx="152.2" cy="486.4" r="1.3"/><circle cx="154.2" cy="481.1" r="1.3"/><circle cx="185.6" cy="448.5" r="1.3"/><circle cx="162.8" cy="438.4" r="1.3"/><circle cx="111.9" cy="464.8" r="1.3"/><circle cx="186.1" cy="502.9" r="1.3"/><circle cx="185.9" cy="438.6" r="1.3"/><circle cx="166.5" cy="439.5" r="1.3"/><circle cx="150.6" cy="502.8" r="1.3"/><circle cx="180.8" cy="415.8" r="1.3"/><circle cx="163.0" cy="470.7" r="1.3"/><circle cx="177.4" cy="448.8" r="1.3"/><circle cx="184.4" cy="443.7" r="1.3"/><circle cx="156.0" cy="450.4" r="1.3"/><circle cx="173.5" cy="415.9" r="1.3"/><circle cx="156.0" cy="466.1" r="1.3"/><circle cx="178.9" cy="471.5" r="1.3"/><circle cx="181.6" cy="464.4" r="1.3"/><circle cx="178.5" cy="457.9" r="1.3"/><circle cx="156.4" cy="504.5" r="1.3"/><circle cx="173.3" cy="485.2" r="1.3"/><circle cx="154.9" cy="471.5" r="1.3"/><circle cx="191.3" cy="495.6" r="1.3"/><circle cx="180.7" cy="472.2" r="1.3"/><circle cx="170.3" cy="465.2" r="1.3"/><circle cx="187.3" cy="485.8" r="1.3"/><circle cx="185.6" cy="485.7" r="1.3"/><circle cx="173.0" cy="475.2" r="1.3"/><circle cx="185.3" cy="455.1" r="1.3"/><circle cx="178.6" cy="415.2" r="1.3"/><circle cx="189.2" cy="486.0" r="1.3"/><circle cx="175.6" cy="417.8" r="1.3"/><circle cx="182.5" cy="440.8" r="1.3"/><circle cx="175.0" cy="450.2" r="1.3"/><circle cx="180.8" cy="495.5" r="1.3"/><circle cx="180.7" cy="499.7" r="1.3"/><circle cx="183.8" cy="449.2" r="1.3"/><circle cx="183.6" cy="491.1" r="1.3"/><circle cx="192.7" cy="495.0" r="1.3"/><circle cx="152.4" cy="499.1" r="1.3"/><circle cx="175.2" cy="418.1" r="1.3"/><circle cx="181.6" cy="418.2" r="1.3"/><circle cx="186.3" cy="475.2" r="1.3"/><circle cx="170.0" cy="465.9" r="1.3"/><circle cx="156.0" cy="461.3" r="1.3"/><circle cx="179.2" cy="497.6" r="1.3"/><circle cx="151.3" cy="492.5" r="1.3"/><circle cx="166.8" cy="501.1" r="1.3"/><circle cx="186.8" cy="485.4" r="1.3"/><circle cx="184.7" cy="448.6" r="1.3"/><circle cx="185.7" cy="415.5" r="1.3"/><circle cx="178.9" cy="415.2" r="1.3"/><circle cx="184.4" cy="408.2" r="1.3"/><circle cx="186.2" cy="471.9" r="1.3"/><circle cx="156.5" cy="443.1" r="1.3"/><circle cx="187.0" cy="497.5" r="1.3"/><circle cx="185.7" cy="460.2" r="1.3"/><circle cx="186.5" cy="485.2" r="1.3"/><circle cx="187.9" cy="474.5" r="1.3"/><circle cx="182.5" cy="480.9" r="1.3"/><circle cx="161.1" cy="493.8" r="1.3"/><circle cx="180.6" cy="439.1" r="1.3"/><circle cx="162.5" cy="404.9" r="1.3"/><circle cx="175.3" cy="414.8" r="1.3"/><circle cx="148.8" cy="500.2" r="1.3"/><circle cx="178.7" cy="495.0" r="1.3"/><circle cx="175.4" cy="430.5" r="1.3"/><circle cx="171.3" cy="458.8" r="1.3"/><circle cx="181.0" cy="420.9" r="1.3"/><circle cx="190.9" cy="491.2" r="1.3"/><circle cx="186.7" cy="467.7" r="1.3"/><circle cx="184.3" cy="485.0" r="1.3"/><circle cx="182.0" cy="442.4" r="1.3"/><circle cx="175.2" cy="439.5" r="1.3"/><circle cx="175.4" cy="481.3" r="1.3"/><circle cx="180.3" cy="475.7" r="1.3"/><circle cx="184.1" cy="415.2" r="1.3"/><circle cx="187.1" cy="500.2" r="1.3"/><circle cx="182.5" cy="448.3" r="1.3"/><circle cx="159.6" cy="504.1" r="1.3"/><circle cx="182.3" cy="448.0" r="1.3"/><circle cx="184.4" cy="490.2" r="1.3"/><circle cx="175.6" cy="496.3" r="1.3"/><circle cx="156.6" cy="503.4" r="1.3"/><circle cx="164.9" cy="430.4" r="1.3"/><circle cx="172.6" cy="468.8" r="1.3"/><circle cx="185.0" cy="448.7" r="1.3"/><circle cx="168.2" cy="422.3" r="1.3"/><circle cx="152.8" cy="496.5" r="1.3"/><circle cx="176.9" cy="443.3" r="1.3"/><circle cx="185.8" cy="466.4" r="1.3"/><circle cx="179.4" cy="476.0" r="1.3"/><circle cx="154.5" cy="449.2" r="1.3"/><circle cx="178.8" cy="422.3" r="1.3"/><circle cx="178.7" cy="464.9" r="1.3"/><circle cx="169.8" cy="499.4" r="1.3"/><circle cx="167.6" cy="484.6" r="1.3"/><circle cx="171.6" cy="490.2" r="1.3"/><circle cx="168.0" cy="464.2" r="1.3"/><circle cx="175.5" cy="444.6" r="1.3"/><circle cx="154.2" cy="480.9" r="1.3"/><circle cx="180.7" cy="423.6" r="1.3"/><circle cx="184.2" cy="465.1" r="1.3"/><circle cx="159.7" cy="497.3" r="1.3"/><circle cx="177.2" cy="454.5" r="1.3"/><circle cx="182.6" cy="467.9" r="1.3"/><circle cx="156.2" cy="422.7" r="1.3"/><circle cx="167.7" cy="445.1" r="1.3"/><circle cx="178.9" cy="450.2" r="1.3"/><circle cx="163.9" cy="443.4" r="1.3"/><circle cx="183.2" cy="459.3" r="1.3"/><circle cx="178.8" cy="495.3" r="1.3"/><circle cx="182.8" cy="496.1" r="1.3"/><circle cx="175.0" cy="416.4" r="1.3"/><circle cx="180.0" cy="480.7" r="1.3"/><circle cx="183.9" cy="457.7" r="1.3"/><circle cx="177.2" cy="429.8" r="1.3"/><circle cx="151.0" cy="449.1" r="1.3"/><circle cx="179.2" cy="501.5" r="1.3"/><circle cx="164.7" cy="457.4" r="1.3"/><circle cx="182.1" cy="438.8" r="1.3"/><circle cx="179.3" cy="440.4" r="1.3"/><circle cx="188.9" cy="503.5" r="1.3"/><circle cx="166.4" cy="448.2" r="1.3"/><circle cx="156.0" cy="447.9" r="1.3"/><circle cx="145.4" cy="481.2" r="1.3"/><circle cx="182.8" cy="471.6" r="1.3"/><circle cx="180.9" cy="485.6" r="1.3"/><circle cx="178.7" cy="461.7" r="1.3"/><circle cx="178.8" cy="472.2" r="1.3"/><circle cx="183.6" cy="455.7" r="1.3"/><circle cx="168.1" cy="415.5" r="1.3"/><circle cx="185.6" cy="422.2" r="1.3"/><circle cx="182.9" cy="438.9" r="1.3"/><circle cx="184.7" cy="428.8" r="1.3"/><circle cx="189.4" cy="491.1" r="1.3"/><circle cx="188.4" cy="502.1" r="1.3"/><circle cx="189.0" cy="503.3" r="1.3"/><circle cx="168.4" cy="415.0" r="1.3"/><circle cx="185.8" cy="454.8" r="1.3"/><circle cx="180.5" cy="485.1" r="1.3"/><circle cx="171.8" cy="458.6" r="1.3"/><circle cx="177.4" cy="414.9" r="1.3"/><circle cx="149.3" cy="490.4" r="1.3"/><circle cx="177.3" cy="449.3" r="1.3"/><circle cx="184.3" cy="429.8" r="1.3"/><circle cx="149.1" cy="503.4" r="1.3"/><circle cx="186.0" cy="481.3" r="1.3"/><circle cx="157.9" cy="448.8" r="1.3"/><circle cx="181.8" cy="499.3" r="1.3"/><circle cx="191.3" cy="496.7" r="1.3"/><circle cx="166.7" cy="442.8" r="1.3"/><circle cx="179.0" cy="415.2" r="1.3"/><circle cx="176.7" cy="464.9" r="1.3"/><circle cx="183.4" cy="426.0" r="1.3"/><circle cx="170.3" cy="448.9" r="1.3"/><circle cx="185.6" cy="429.1" r="1.3"/><circle cx="184.9" cy="502.5" r="1.3"/><circle cx="162.8" cy="433.7" r="1.3"/><circle cx="184.2" cy="495.2" r="1.3"/><circle cx="182.4" cy="415.4" r="1.3"/><circle cx="184.6" cy="452.7" r="1.3"/><circle cx="182.6" cy="439.2" r="1.3"/><circle cx="157.9" cy="480.7" r="1.3"/><circle cx="185.7" cy="414.9" r="1.3"/><circle cx="185.6" cy="443.7" r="1.3"/><circle cx="178.4" cy="437.7" r="1.3"/><circle cx="149.6" cy="448.8" r="1.3"/><circle cx="170.5" cy="471.3" r="1.3"/><circle cx="173.8" cy="496.2" r="1.3"/><circle cx="156.2" cy="443.3" r="1.3"/><circle cx="189.4" cy="474.9" r="1.3"/><circle cx="162.9" cy="456.7" r="1.3"/><circle cx="190.4" cy="502.0" r="1.3"/><circle cx="160.0" cy="443.9" r="1.3"/><circle cx="185.8" cy="499.3" r="1.3"/><circle cx="175.5" cy="449.0" r="1.3"/><circle cx="180.6" cy="443.4" r="1.3"/><circle cx="178.9" cy="474.3" r="1.3"/><circle cx="189.2" cy="487.8" r="1.3"/><circle cx="192.8" cy="499.0" r="1.3"/><circle cx="180.4" cy="485.4" r="1.3"/><circle cx="179.3" cy="483.1" r="1.3"/><circle cx="185.5" cy="499.9" r="1.3"/><circle cx="182.6" cy="499.5" r="1.3"/><circle cx="187.3" cy="479.9" r="1.3"/><circle cx="192.0" cy="503.5" r="1.3"/><circle cx="182.0" cy="487.1" r="1.3"/><circle cx="177.1" cy="475.7" r="1.3"/><circle cx="178.9" cy="495.6" r="1.3"/><circle cx="186.2" cy="490.9" r="1.3"/><circle cx="189.0" cy="499.3" r="1.3"/><circle cx="188.3" cy="503.8" r="1.3"/><circle cx="180.7" cy="491.4" r="1.3"/><circle cx="191.2" cy="504.0" r="1.3"/><circle cx="178.7" cy="471.1" r="1.3"/><circle cx="182.4" cy="481.1" r="1.3"/><circle cx="175.4" cy="475.6" r="1.3"/><circle cx="176.9" cy="485.9" r="1.3"/><circle cx="178.9" cy="486.2" r="1.3"/><circle cx="183.9" cy="492.4" r="1.3"/><circle cx="187.5" cy="504.3" r="1.3"/><circle cx="191.2" cy="495.8" r="1.3"/><circle cx="183.0" cy="474.7" r="1.3"/><circle cx="182.9" cy="481.5" r="1.3"/><circle cx="180.1" cy="472.7" r="1.3"/><circle cx="181.9" cy="496.1" r="1.3"/><circle cx="178.7" cy="496.3" r="1.3"/><circle cx="189.4" cy="495.0" r="1.3"/><circle cx="179.0" cy="471.0" r="1.3"/><circle cx="180.4" cy="491.0" r="1.3"/><circle cx="177.2" cy="481.5" r="1.3"/><circle cx="190.2" cy="496.2" r="1.3"/><circle cx="182.4" cy="491.6" r="1.3"/><circle cx="184.1" cy="484.9" r="1.3"/><circle cx="182.4" cy="482.7" r="1.3"/><circle cx="176.9" cy="481.1" r="1.3"/><circle cx="187.7" cy="504.1" r="1.3"/><circle cx="183.4" cy="479.4" r="1.3"/><circle cx="185.1" cy="478.1" r="1.3"/><circle cx="189.9" cy="502.5" r="1.3"/><circle cx="178.7" cy="475.0" r="1.3"/><circle cx="179.6" cy="492.1" r="1.3"/><circle cx="186.1" cy="492.2" r="1.3"/><circle cx="186.4" cy="494.5" r="1.3"/><circle cx="185.6" cy="484.9" r="1.3"/><circle cx="191.2" cy="490.6" r="1.3"/><circle cx="179.0" cy="489.5" r="1.3"/><circle cx="188.7" cy="496.0" r="1.3"/><circle cx="188.1" cy="504.1" r="1.3"/><circle cx="174.0" cy="475.4" r="1.3"/><circle cx="179.1" cy="493.2" r="1.3"/><circle cx="186.1" cy="498.0" r="1.3"/><circle cx="175.5" cy="474.4" r="1.3"/><circle cx="177.0" cy="480.0" r="1.3"/><circle cx="185.9" cy="481.8" r="1.3"/><circle cx="185.4" cy="496.1" r="1.3"/><circle cx="185.4" cy="497.1" r="1.3"/><circle cx="191.1" cy="500.2" r="1.3"/><circle cx="177.8" cy="483.5" r="1.3"/><circle cx="185.6" cy="475.7" r="1.3"/><circle cx="192.8" cy="501.3" r="1.3"/><circle cx="180.1" cy="479.0" r="1.3"/><circle cx="190.3" cy="495.7" r="1.3"/><circle cx="191.4" cy="485.2" r="1.3"/><circle cx="181.1" cy="481.3" r="1.3"/><circle cx="187.2" cy="478.2" r="1.3"/><circle cx="189.2" cy="486.2" r="1.3"/><circle cx="187.7" cy="483.8" r="1.3"/><circle cx="182.5" cy="495.5" r="1.3"/><circle cx="178.6" cy="475.5" r="1.3"/><circle cx="184.0" cy="487.0" r="1.3"/><circle cx="180.5" cy="485.1" r="1.3"/><circle cx="189.6" cy="500.4" r="1.3"/><circle cx="186.3" cy="494.1" r="1.3"/><circle cx="180.6" cy="485.3" r="1.3"/><circle cx="187.5" cy="486.0" r="1.3"/><circle cx="184.1" cy="495.4" r="1.3"/><circle cx="189.7" cy="499.5" r="1.3"/><circle cx="186.1" cy="501.1" r="1.3"/><circle cx="182.0" cy="475.1" r="1.3"/><circle cx="177.3" cy="483.4" r="1.3"/><circle cx="179.0" cy="471.1" r="1.3"/><circle cx="259.7" cy="445.6" r="1.3"/><circle cx="247.6" cy="502.6" r="1.3"/><circle cx="268.2" cy="474.7" r="1.3"/><circle cx="268.2" cy="475.0" r="1.3"/><circle cx="246.8" cy="448.5" r="1.3"/><circle cx="249.6" cy="483.7" r="1.3"/><circle cx="243.2" cy="486.4" r="1.3"/><circle cx="240.1" cy="495.4" r="1.3"/><circle cx="243.6" cy="485.2" r="1.3"/><circle cx="247.1" cy="420.7" r="1.3"/><circle cx="245.4" cy="438.1" r="1.3"/><circle cx="247.5" cy="459.2" r="1.3"/><circle cx="257.3" cy="429.1" r="1.3"/><circle cx="236.3" cy="500.5" r="1.3"/><circle cx="245.5" cy="481.5" r="1.3"/><circle cx="259.4" cy="499.9" r="1.3"/><circle cx="259.4" cy="437.9" r="1.3"/><circle cx="252.2" cy="496.2" r="1.3"/><circle cx="250.7" cy="442.6" r="1.3"/><circle cx="248.8" cy="449.1" r="1.3"/><circle cx="247.2" cy="465.5" r="1.3"/><circle cx="246.6" cy="445.4" r="1.3"/><circle cx="247.7" cy="461.7" r="1.3"/><circle cx="264.5" cy="407.7" r="1.3"/><circle cx="259.4" cy="442.5" r="1.3"/><circle cx="240.5" cy="485.4" r="1.3"/><circle cx="255.8" cy="457.7" r="1.3"/><circle cx="245.0" cy="504.0" r="1.3"/><circle cx="250.4" cy="474.7" r="1.3"/><circle cx="237.5" cy="498.7" r="1.3"/><circle cx="239.7" cy="484.6" r="1.3"/><circle cx="269.5" cy="455.4" r="1.3"/><circle cx="255.0" cy="419.0" r="1.3"/><circle cx="249.2" cy="448.6" r="1.3"/><circle cx="255.6" cy="418.5" r="1.3"/><circle cx="245.3" cy="465.8" r="1.3"/><circle cx="240.0" cy="500.2" r="1.3"/><circle cx="238.6" cy="495.1" r="1.3"/><circle cx="243.5" cy="500.1" r="1.3"/><circle cx="245.5" cy="485.3" r="1.3"/><circle cx="248.7" cy="448.0" r="1.3"/><circle cx="248.9" cy="449.7" r="1.3"/><circle cx="250.3" cy="448.9" r="1.3"/><circle cx="255.6" cy="438.7" r="1.3"/><circle cx="264.3" cy="473.2" r="1.3"/><circle cx="246.5" cy="458.8" r="1.3"/><circle cx="255.6" cy="422.5" r="1.3"/><circle cx="244.8" cy="467.4" r="1.3"/><circle cx="242.0" cy="485.6" r="1.3"/><circle cx="249.1" cy="439.5" r="1.3"/><circle cx="267.0" cy="470.1" r="1.3"/><circle cx="262.6" cy="449.6" r="1.3"/><circle cx="245.6" cy="438.8" r="1.3"/><circle cx="249.0" cy="438.7" r="1.3"/><circle cx="248.5" cy="463.7" r="1.3"/><circle cx="252.5" cy="492.9" r="1.3"/><circle cx="267.5" cy="465.9" r="1.3"/><circle cx="261.0" cy="438.9" r="1.3"/><circle cx="252.6" cy="458.6" r="1.3"/><circle cx="247.1" cy="465.3" r="1.3"/><circle cx="238.8" cy="499.8" r="1.3"/><circle cx="245.8" cy="422.4" r="1.3"/><circle cx="246.6" cy="444.9" r="1.3"/><circle cx="250.0" cy="418.0" r="1.3"/><circle cx="261.3" cy="481.7" r="1.3"/><circle cx="247.5" cy="430.3" r="1.3"/><circle cx="245.1" cy="456.3" r="1.3"/><circle cx="244.8" cy="471.1" r="1.3"/><circle cx="262.2" cy="502.6" r="1.3"/><circle cx="239.8" cy="499.8" r="1.3"/><circle cx="245.3" cy="471.6" r="1.3"/><circle cx="266.5" cy="423.8" r="1.3"/><circle cx="246.1" cy="479.2" r="1.3"/><circle cx="239.0" cy="489.1" r="1.3"/><circle cx="247.1" cy="503.5" r="1.3"/><circle cx="243.9" cy="485.0" r="1.3"/><circle cx="257.8" cy="458.0" r="1.3"/><circle cx="252.2" cy="457.5" r="1.3"/><circle cx="256.1" cy="465.1" r="1.3"/><circle cx="261.4" cy="446.9" r="1.3"/><circle cx="252.6" cy="465.2" r="1.3"/><circle cx="239.2" cy="503.7" r="1.3"/><circle cx="237.5" cy="503.7" r="1.3"/><circle cx="249.2" cy="485.3" r="1.3"/><circle cx="250.6" cy="484.9" r="1.3"/><circle cx="248.5" cy="416.5" r="1.3"/><circle cx="251.8" cy="499.8" r="1.3"/><circle cx="251.7" cy="432.9" r="1.3"/><circle cx="252.5" cy="481.4" r="1.3"/><circle cx="238.4" cy="500.6" r="1.3"/><circle cx="248.7" cy="429.1" r="1.3"/><circle cx="247.2" cy="465.5" r="1.3"/><circle cx="252.6" cy="485.1" r="1.3"/><circle cx="267.9" cy="442.3" r="1.3"/><circle cx="261.7" cy="459.7" r="1.3"/><circle cx="254.2" cy="408.3" r="1.3"/><circle cx="239.8" cy="481.3" r="1.3"/><circle cx="243.7" cy="475.2" r="1.3"/><circle cx="254.0" cy="438.4" r="1.3"/><circle cx="259.3" cy="448.4" r="1.3"/><circle cx="250.7" cy="447.2" r="1.3"/><circle cx="241.8" cy="491.8" r="1.3"/><circle cx="251.1" cy="430.8" r="1.3"/><circle cx="252.3" cy="442.5" r="1.3"/><circle cx="240.1" cy="499.6" r="1.3"/><circle cx="255.9" cy="470.8" r="1.3"/><circle cx="249.1" cy="476.2" r="1.3"/><circle cx="264.5" cy="439.3" r="1.3"/><circle cx="262.9" cy="457.3" r="1.3"/><circle cx="240.5" cy="491.6" r="1.3"/><circle cx="263.2" cy="488.8" r="1.3"/><circle cx="260.4" cy="488.3" r="1.3"/><circle cx="252.3" cy="430.1" r="1.3"/><circle cx="253.8" cy="466.2" r="1.3"/><circle cx="248.8" cy="476.4" r="1.3"/><circle cx="252.0" cy="445.1" r="1.3"/><circle cx="240.1" cy="503.3" r="1.3"/><circle cx="262.4" cy="416.8" r="1.3"/><circle cx="254.1" cy="495.1" r="1.3"/><circle cx="246.1" cy="449.2" r="1.3"/><circle cx="263.4" cy="436.7" r="1.3"/><circle cx="245.1" cy="464.5" r="1.3"/><circle cx="252.1" cy="499.9" r="1.3"/><circle cx="260.0" cy="443.1" r="1.3"/><circle cx="241.9" cy="485.3" r="1.3"/><circle cx="241.4" cy="493.5" r="1.3"/><circle cx="250.7" cy="438.7" r="1.3"/><circle cx="249.4" cy="415.9" r="1.3"/><circle cx="245.5" cy="473.8" r="1.3"/><circle cx="251.8" cy="424.8" r="1.3"/><circle cx="267.7" cy="467.7" r="1.3"/><circle cx="280.8" cy="439.2" r="1.3"/><circle cx="250.2" cy="415.3" r="1.3"/><circle cx="260.8" cy="445.9" r="1.3"/><circle cx="245.2" cy="458.9" r="1.3"/><circle cx="246.9" cy="416.4" r="1.3"/><circle cx="248.6" cy="457.7" r="1.3"/><circle cx="257.5" cy="475.2" r="1.3"/><circle cx="245.5" cy="414.9" r="1.3"/><circle cx="264.5" cy="422.3" r="1.3"/><circle cx="238.1" cy="504.0" r="1.3"/><circle cx="257.3" cy="458.0" r="1.3"/><circle cx="249.2" cy="457.4" r="1.3"/><circle cx="254.2" cy="456.6" r="1.3"/><circle cx="258.3" cy="458.7" r="1.3"/><circle cx="245.5" cy="487.3" r="1.3"/><circle cx="268.0" cy="443.6" r="1.3"/><circle cx="246.8" cy="475.4" r="1.3"/><circle cx="243.8" cy="502.7" r="1.3"/><circle cx="250.6" cy="439.2" r="1.3"/><circle cx="242.2" cy="497.6" r="1.3"/><circle cx="243.3" cy="491.5" r="1.3"/><circle cx="253.8" cy="485.3" r="1.3"/><circle cx="247.4" cy="466.8" r="1.3"/><circle cx="268.0" cy="448.3" r="1.3"/><circle cx="250.3" cy="462.4" r="1.3"/><circle cx="250.9" cy="475.8" r="1.3"/><circle cx="273.3" cy="458.3" r="1.3"/><circle cx="241.6" cy="485.1" r="1.3"/><circle cx="250.8" cy="480.6" r="1.3"/><circle cx="251.1" cy="407.7" r="1.3"/><circle cx="238.6" cy="501.0" r="1.3"/><circle cx="243.9" cy="483.4" r="1.3"/><circle cx="264.3" cy="415.2" r="1.3"/><circle cx="250.8" cy="448.8" r="1.3"/><circle cx="244.0" cy="489.5" r="1.3"/><circle cx="250.6" cy="439.3" r="1.3"/><circle cx="255.3" cy="457.4" r="1.3"/><circle cx="243.9" cy="478.2" r="1.3"/><circle cx="266.5" cy="438.5" r="1.3"/><circle cx="246.9" cy="481.5" r="1.3"/><circle cx="243.6" cy="472.3" r="1.3"/><circle cx="238.2" cy="495.6" r="1.3"/><circle cx="261.2" cy="442.7" r="1.3"/><circle cx="247.3" cy="471.4" r="1.3"/><circle cx="250.9" cy="409.0" r="1.3"/><circle cx="247.0" cy="460.0" r="1.3"/><circle cx="257.1" cy="484.7" r="1.3"/><circle cx="247.2" cy="464.4" r="1.3"/><circle cx="266.4" cy="465.5" r="1.3"/><circle cx="259.8" cy="415.9" r="1.3"/><circle cx="256.7" cy="491.4" r="1.3"/><circle cx="249.7" cy="458.7" r="1.3"/><circle cx="260.0" cy="503.6" r="1.3"/><circle cx="246.1" cy="466.7" r="1.3"/><circle cx="246.3" cy="464.3" r="1.3"/><circle cx="247.3" cy="408.7" r="1.3"/><circle cx="245.3" cy="499.8" r="1.3"/><circle cx="261.2" cy="457.1" r="1.3"/><circle cx="250.9" cy="449.2" r="1.3"/><circle cx="241.9" cy="479.2" r="1.3"/><circle cx="252.6" cy="481.8" r="1.3"/><circle cx="250.6" cy="480.8" r="1.3"/><circle cx="238.2" cy="495.8" r="1.3"/><circle cx="242.0" cy="479.7" r="1.3"/><circle cx="243.3" cy="482.7" r="1.3"/><circle cx="248.8" cy="481.3" r="1.3"/><circle cx="243.0" cy="490.4" r="1.3"/><circle cx="248.9" cy="479.6" r="1.3"/><circle cx="244.2" cy="480.1" r="1.3"/><circle cx="238.5" cy="495.7" r="1.3"/><circle cx="245.4" cy="499.5" r="1.3"/><circle cx="245.1" cy="495.6" r="1.3"/><circle cx="248.8" cy="475.1" r="1.3"/><circle cx="254.2" cy="471.3" r="1.3"/><circle cx="248.9" cy="490.6" r="1.3"/><circle cx="244.0" cy="496.0" r="1.3"/><circle cx="252.6" cy="475.5" r="1.3"/><circle cx="244.4" cy="499.4" r="1.3"/><circle cx="245.2" cy="495.9" r="1.3"/><circle cx="241.7" cy="475.7" r="1.3"/><circle cx="242.7" cy="475.1" r="1.3"/><circle cx="249.0" cy="491.7" r="1.3"/><circle cx="241.7" cy="480.9" r="1.3"/><circle cx="247.4" cy="475.7" r="1.3"/><circle cx="243.7" cy="492.1" r="1.3"/><circle cx="245.2" cy="481.7" r="1.3"/><circle cx="246.2" cy="484.9" r="1.3"/><circle cx="246.4" cy="476.6" r="1.3"/><circle cx="248.4" cy="484.3" r="1.3"/><circle cx="245.0" cy="475.3" r="1.3"/><circle cx="249.1" cy="494.8" r="1.3"/><circle cx="238.5" cy="496.9" r="1.3"/><circle cx="246.7" cy="494.5" r="1.3"/><circle cx="243.8" cy="501.2" r="1.3"/><circle cx="246.9" cy="504.4" r="1.3"/><circle cx="238.3" cy="503.3" r="1.3"/><circle cx="238.6" cy="495.6" r="1.3"/><circle cx="239.6" cy="492.4" r="1.3"/><circle cx="245.1" cy="480.8" r="1.3"/><circle cx="252.3" cy="480.6" r="1.3"/><circle cx="243.8" cy="471.3" r="1.3"/><circle cx="243.4" cy="503.5" r="1.3"/><circle cx="247.7" cy="487.8" r="1.3"/><circle cx="242.0" cy="503.2" r="1.3"/><circle cx="242.9" cy="496.2" r="1.3"/><circle cx="251.2" cy="477.2" r="1.3"/><circle cx="248.9" cy="481.7" r="1.3"/><circle cx="250.1" cy="480.4" r="1.3"/><circle cx="243.7" cy="474.2" r="1.3"/><circle cx="244.3" cy="494.3" r="1.3"/><circle cx="241.9" cy="485.9" r="1.3"/><circle cx="245.3" cy="471.2" r="1.3"/><circle cx="249.1" cy="492.0" r="1.3"/><circle cx="248.6" cy="494.7" r="1.3"/><circle cx="248.5" cy="495.8" r="1.3"/><circle cx="238.7" cy="485.4" r="1.3"/><circle cx="245.6" cy="491.9" r="1.3"/><circle cx="249.7" cy="494.2" r="1.3"/><circle cx="245.1" cy="481.3" r="1.3"/><circle cx="241.9" cy="503.0" r="1.3"/><circle cx="236.8" cy="504.4" r="1.3"/><circle cx="243.4" cy="474.5" r="1.3"/><circle cx="243.5" cy="485.8" r="1.3"/><circle cx="254.2" cy="471.7" r="1.3"/><circle cx="245.2" cy="499.9" r="1.3"/><circle cx="247.0" cy="486.0" r="1.3"/><circle cx="250.7" cy="476.1" r="1.3"/><circle cx="250.0" cy="487.4" r="1.3"/><circle cx="241.9" cy="480.6" r="1.3"/><circle cx="240.3" cy="501.3" r="1.3"/><circle cx="243.1" cy="503.4" r="1.3"/><circle cx="238.6" cy="496.2" r="1.3"/><circle cx="247.0" cy="503.1" r="1.3"/><circle cx="250.5" cy="477.8" r="1.3"/><circle cx="245.2" cy="483.2" r="1.3"/><circle cx="243.7" cy="496.0" r="1.3"/><circle cx="243.8" cy="499.7" r="1.3"/><circle cx="254.4" cy="475.9" r="1.3"/><circle cx="245.6" cy="491.5" r="1.3"/><circle cx="111.3" cy="499.4" r="1.3"/><circle cx="114.8" cy="498.4" r="1.3"/><circle cx="129.7" cy="497.7" r="1.3"/><circle cx="123.0" cy="445.4" r="1.3"/><circle cx="131.1" cy="436.5" r="1.3"/><circle cx="125.4" cy="415.3" r="1.3"/><circle cx="134.3" cy="409.3" r="1.3"/><circle cx="133.6" cy="456.0" r="1.3"/><circle cx="136.0" cy="464.8" r="1.3"/><circle cx="142.4" cy="404.7" r="1.3"/><circle cx="284.0" cy="436.5" r="1.3"/><circle cx="304.1" cy="434.1" r="1.3"/><circle cx="280.8" cy="450.7" r="1.3"/><circle cx="275.5" cy="465.9" r="1.3"/><circle cx="282.9" cy="478.9" r="1.3"/><circle cx="298.4" cy="481.8" r="1.3"/><circle cx="308.0" cy="483.5" r="1.3"/><circle cx="287.8" cy="486.7" r="1.3"/><circle cx="295.6" cy="491.0" r="1.3"/><circle cx="274.1" cy="492.4" r="1.3"/><circle cx="313.3" cy="503.0" r="1.3"/><circle cx="272.3" cy="503.0" r="1.3"/></g>
<g fill="#0808ff"><circle cx="79.3" cy="296.4" r="1.75"/><circle cx="91.0" cy="296.4" r="1.75"/><circle cx="92.6" cy="296.4" r="1.75"/><circle cx="111.1" cy="296.4" r="1.75"/><circle cx="116.1" cy="296.4" r="1.75"/><circle cx="121.0" cy="296.4" r="1.75"/><circle cx="126.7" cy="296.4" r="1.75"/><circle cx="136.4" cy="296.4" r="1.75"/><circle cx="138.7" cy="296.4" r="1.75"/><circle cx="141.0" cy="296.4" r="1.75"/><circle cx="143.3" cy="296.4" r="1.75"/><circle cx="145.6" cy="296.4" r="1.75"/><circle cx="148.4" cy="296.4" r="1.75"/><circle cx="153.0" cy="296.4" r="1.75"/><circle cx="154.8" cy="296.4" r="1.75"/><circle cx="156.7" cy="296.4" r="1.75"/><circle cx="158.5" cy="296.4" r="1.75"/><circle cx="160.4" cy="296.4" r="1.75"/><circle cx="162.2" cy="296.4" r="1.75"/><circle cx="164.1" cy="296.4" r="1.75"/><circle cx="165.9" cy="296.4" r="1.75"/><circle cx="167.7" cy="296.4" r="1.75"/><circle cx="169.6" cy="296.4" r="1.75"/><circle cx="171.4" cy="296.4" r="1.75"/><circle cx="173.3" cy="296.4" r="1.75"/><circle cx="175.1" cy="296.4" r="1.75"/><circle cx="177.0" cy="296.4" r="1.75"/><circle cx="178.8" cy="296.4" r="1.75"/><circle cx="180.2" cy="296.4" r="1.75"/><circle cx="142.2" cy="327.0" r="1.75"/><circle cx="160.1" cy="327.0" r="1.75"/><circle cx="162.9" cy="327.0" r="1.75"/><circle cx="169.8" cy="327.0" r="1.75"/><circle cx="172.1" cy="327.0" r="1.75"/><circle cx="174.4" cy="327.0" r="1.75"/><circle cx="176.3" cy="327.0" r="1.75"/><circle cx="157.1" cy="341.8" r="1.75"/><circle cx="159.4" cy="341.8" r="1.75"/><circle cx="162.9" cy="341.8" r="1.75"/><circle cx="165.2" cy="341.8" r="1.75"/><circle cx="171.7" cy="341.8" r="1.75"/><circle cx="174.4" cy="341.8" r="1.75"/><circle cx="177.2" cy="341.8" r="1.75"/><circle cx="179.5" cy="341.8" r="1.75"/><circle cx="164.1" cy="357.2" r="1.75"/><circle cx="180.6" cy="357.2" r="1.75"/><circle cx="147.5" cy="364.8" r="1.75"/><circle cx="157.8" cy="364.8" r="1.75"/><circle cx="160.6" cy="364.8" r="1.75"/><circle cx="163.6" cy="364.8" r="1.75"/><circle cx="166.4" cy="364.8" r="1.75"/><circle cx="169.4" cy="364.8" r="1.75"/><circle cx="172.1" cy="364.8" r="1.75"/><circle cx="175.6" cy="364.8" r="1.75"/><circle cx="152.5" cy="371.2" r="1.75"/><circle cx="159.4" cy="371.2" r="1.75"/><circle cx="163.4" cy="371.2" r="1.75"/><circle cx="168.7" cy="371.2" r="1.75"/><circle cx="176.0" cy="371.2" r="1.75"/><circle cx="177.9" cy="371.2" r="1.75"/><circle cx="181.8" cy="371.2" r="1.75"/><circle cx="124.9" cy="377.2" r="1.75"/><circle cx="134.8" cy="377.2" r="1.75"/><circle cx="164.1" cy="377.2" r="1.75"/><circle cx="176.3" cy="377.2" r="1.75"/><circle cx="177.9" cy="377.2" r="1.75"/><circle cx="148.6" cy="382.5" r="1.75"/><circle cx="169.8" cy="382.5" r="1.75"/><circle cx="181.3" cy="382.5" r="1.75"/><circle cx="183.2" cy="382.5" r="1.75"/><circle cx="158.3" cy="388.3" r="1.75"/><circle cx="182.5" cy="388.3" r="1.75"/><circle cx="152.1" cy="390.6" r="1.75"/><circle cx="154.8" cy="390.6" r="1.75"/><circle cx="162.2" cy="390.6" r="1.75"/><circle cx="167.5" cy="390.6" r="1.75"/><circle cx="173.3" cy="390.6" r="1.75"/><circle cx="177.2" cy="390.6" r="1.75"/><circle cx="146.8" cy="393.6" r="1.75"/><circle cx="171.4" cy="393.6" r="1.75"/><circle cx="176.7" cy="393.6" r="1.75"/><circle cx="182.5" cy="393.6" r="1.75"/><circle cx="112.7" cy="397.1" r="1.75"/><circle cx="156.7" cy="397.1" r="1.75"/><circle cx="164.1" cy="397.1" r="1.75"/><circle cx="157.8" cy="400.7" r="1.75"/><circle cx="162.9" cy="400.7" r="1.75"/><circle cx="171.0" cy="400.7" r="1.75"/><circle cx="174.4" cy="400.7" r="1.75"/><circle cx="176.3" cy="400.7" r="1.75"/><circle cx="178.1" cy="400.7" r="1.75"/><circle cx="180.0" cy="400.7" r="1.75"/><circle cx="181.8" cy="400.7" r="1.75"/><circle cx="184.1" cy="400.7" r="1.75"/></g>
<g fill="#f01010"><circle cx="255.7" cy="296.3" r="1.75"/><circle cx="257.4" cy="296.3" r="1.75"/><circle cx="259.2" cy="296.3" r="1.75"/><circle cx="260.9" cy="296.3" r="1.75"/><circle cx="262.7" cy="296.3" r="1.75"/><circle cx="264.4" cy="296.3" r="1.75"/><circle cx="266.2" cy="296.3" r="1.75"/><circle cx="267.9" cy="296.3" r="1.75"/><circle cx="272.3" cy="296.3" r="1.75"/><circle cx="274.1" cy="296.3" r="1.75"/><circle cx="275.8" cy="296.3" r="1.75"/><circle cx="277.6" cy="296.3" r="1.75"/><circle cx="282.0" cy="296.3" r="1.75"/><circle cx="283.7" cy="296.3" r="1.75"/><circle cx="285.5" cy="296.3" r="1.75"/><circle cx="287.2" cy="296.3" r="1.75"/><circle cx="289.0" cy="296.3" r="1.75"/><circle cx="291.3" cy="296.3" r="1.75"/><circle cx="294.8" cy="296.3" r="1.75"/><circle cx="318.4" cy="296.3" r="1.75"/><circle cx="321.9" cy="296.3" r="1.75"/><circle cx="332.5" cy="296.3" r="1.75"/><circle cx="346.8" cy="296.3" r="1.75"/><circle cx="372.1" cy="296.3" r="1.75"/><circle cx="255.7" cy="326.9" r="1.75"/><circle cx="258.0" cy="326.9" r="1.75"/><circle cx="261.5" cy="326.9" r="1.75"/><circle cx="272.6" cy="326.9" r="1.75"/><circle cx="291.3" cy="326.9" r="1.75"/><circle cx="249.8" cy="341.8" r="1.75"/><circle cx="252.2" cy="341.8" r="1.75"/><circle cx="260.6" cy="341.8" r="1.75"/><circle cx="250.4" cy="364.9" r="1.75"/><circle cx="253.9" cy="364.9" r="1.75"/><circle cx="262.1" cy="364.9" r="1.75"/><circle cx="298.0" cy="364.9" r="1.75"/><circle cx="251.3" cy="371.3" r="1.75"/><circle cx="258.3" cy="371.3" r="1.75"/><circle cx="274.4" cy="371.3" r="1.75"/><circle cx="249.8" cy="377.1" r="1.75"/><circle cx="252.8" cy="377.1" r="1.75"/><circle cx="255.7" cy="377.1" r="1.75"/><circle cx="327.2" cy="377.1" r="1.75"/><circle cx="263.6" cy="383.3" r="1.75"/><circle cx="266.5" cy="388.2" r="1.75"/><circle cx="247.5" cy="390.5" r="1.75"/><circle cx="255.7" cy="390.5" r="1.75"/><circle cx="265.6" cy="390.5" r="1.75"/><circle cx="270.0" cy="390.5" r="1.75"/><circle cx="320.8" cy="390.5" r="1.75"/><circle cx="253.9" cy="393.5" r="1.75"/><circle cx="264.4" cy="393.5" r="1.75"/><circle cx="257.7" cy="397.6" r="1.75"/><circle cx="266.5" cy="397.6" r="1.75"/><circle cx="246.9" cy="401.9" r="1.75"/><circle cx="249.3" cy="401.9" r="1.75"/><circle cx="264.4" cy="401.9" r="1.75"/><circle cx="322.2" cy="401.9" r="1.75"/></g>
<text x="73.6" y="293.0" font-size="6.4" text-anchor="middle" fill="#222">COL4A3</text>
<text x="99.6" y="291.9" font-size="6.4" text-anchor="middle" fill="#222">GUCY2F</text>
<text x="126.8" y="286.2" font-size="6.4" text-anchor="middle" fill="#222">KCNA1</text>
<text x="139.4" y="292.2" font-size="6.4" text-anchor="middle" fill="#222">COL20A1</text>
<text x="97.5" y="304.1" font-size="6.4" text-anchor="middle" fill="#222">AJAP1</text>
<text x="120.9" y="305.5" font-size="6.4" text-anchor="middle" fill="#222">APOD</text>
<text x="154.6" y="305.9" font-size="6.4" text-anchor="middle" fill="#222">SEC14L5</text>
<text x="127.0" y="324.2" font-size="6.4" text-anchor="middle" fill="#222">CILP2</text>
<text x="129.9" y="385.2" font-size="6.4" text-anchor="middle" fill="#222">HPGD</text>
<text x="104.2" y="395.8" font-size="6.4" text-anchor="middle" fill="#222">CFH</text>
<text x="314.4" y="289.7" font-size="6.4" text-anchor="middle" fill="#222">2810047C21RIK1</text>
<text x="354.8" y="293.5" font-size="6.4" text-anchor="middle" fill="#222">NXF3</text>
<text x="378.9" y="290.6" font-size="6.4" text-anchor="middle" fill="#222">SPATA20</text>
<text x="314.4" y="303.7" font-size="6.4" text-anchor="middle" fill="#222">SDPR</text>
<text x="343.4" y="305.2" font-size="6.4" text-anchor="middle" fill="#222">GM364</text>
<text x="294.8" y="316.0" font-size="6.4" text-anchor="middle" fill="#222">A430107O13RIK</text>
<text x="304.1" y="329.1" font-size="6.4" text-anchor="middle" fill="#222">GBP2</text>
<text x="305.8" y="372.2" font-size="6.4" text-anchor="middle" fill="#222">CAR3</text>
<text x="339.9" y="379.6" font-size="6.4" text-anchor="middle" fill="#222">CPA2</text>
<text x="308.4" y="390.4" font-size="6.4" text-anchor="middle" fill="#222">HOXA7</text>
<text x="310.2" y="400.6" font-size="6.4" text-anchor="middle" fill="#222">IL1RL1</text>
<text x="122.0" y="266.3" font-size="11" text-anchor="middle" fill="#1818ff">Downregulated in</text>
<text x="122.0" y="277.3" font-size="11" text-anchor="middle" fill="#1818ff">G34R-mutant pHGG</text>
<text x="328.8" y="265.3" font-size="11" text-anchor="middle" fill="#f01010">Upregulated in</text>
<text x="328.8" y="276.3" font-size="11" text-anchor="middle" fill="#f01010">G34R-mutant pHGG</text>
<text x="329.0" y="401.7" font-size="10.8" fill="#777">Statistically significant</text>
<path d="M439.3,400.6 V390.6 M436.9,394.4 L439.3,390.2 L441.7,394.4" fill="none" stroke="#6c6c6c" stroke-width="0.9"/>
</g>
<g id="panelD">
<text x="436.2" y="242.6" font-size="21.3">D</text>
<text x="563.0" y="230.2" font-size="10.4" text-anchor="middle">Heatmap of genes upregulated in</text>
<text x="563.0" y="241.5" font-size="10.4" text-anchor="middle">G34R mouse pHGG cells in the GO:</text>
<text x="563.0" y="253.0" font-size="10.4" text-anchor="middle" font-style="italic">Response to interferon gamma</text>
<text x="568.5" y="286.9" font-size="8.35" text-anchor="middle">Relative</text>
<text x="568.5" y="295.6" font-size="8.35" text-anchor="middle">expression</text>
<defs><linearGradient id="cb" x1="0" x2="1" y1="0" y2="0"><stop offset="0" stop-color="#0000ff"/><stop offset="0.5" stop-color="#ffffff"/><stop offset="1" stop-color="#ff0000"/></linearGradient></defs>
<rect x="535.5" y="302.8" width="64.5" height="13.5" fill="url(#cb)"/>
<text x="542.5" y="327.6" font-size="8.3" text-anchor="middle">0.25</text>
<text x="597.5" y="327.6" font-size="8.3" text-anchor="middle">4</text>
<rect x="496.0" y="337.60" width="18.0" height="10.91" fill="#0000ff"/>
<rect x="513.7" y="337.60" width="18.0" height="10.91" fill="#0000ff"/>
<rect x="531.4" y="337.60" width="17.9" height="10.91" fill="#6565ff"/>
<rect x="549.0" y="337.60" width="18.0" height="10.91" fill="#0000ff"/>
<rect x="566.7" y="337.60" width="18.0" height="10.91" fill="#0000ff"/>
<rect x="584.4" y="337.60" width="18.1" height="10.91" fill="#ff2323"/>
<rect x="602.2" y="337.60" width="18.1" height="10.91" fill="#ff0000"/>
<rect x="620.0" y="337.60" width="18.3" height="10.91" fill="#ff0000"/>
<text x="491.0" y="346.0" font-size="9.75" text-anchor="end">Ccl8</text>
<rect x="496.0" y="348.21" width="18.0" height="10.91" fill="#0000ff"/>
<rect x="513.7" y="348.21" width="18.0" height="10.91" fill="#2323ff"/>
<rect x="531.4" y="348.21" width="17.9" height="10.91" fill="#0000ff"/>
<rect x="549.0" y="348.21" width="18.0" height="10.91" fill="#4545ff"/>
<rect x="566.7" y="348.21" width="18.0" height="10.91" fill="#d8d8ff"/>
<rect x="584.4" y="348.21" width="18.1" height="10.91" fill="#ffd8d8"/>
<rect x="602.2" y="348.21" width="18.1" height="10.91" fill="#ff0000"/>
<rect x="620.0" y="348.21" width="18.3" height="10.91" fill="#ff0000"/>
<text x="491.0" y="356.6" font-size="9.75" text-anchor="end">Gbp2</text>
<rect x="496.0" y="358.81" width="18.0" height="10.91" fill="#0000ff"/>
<rect x="513.7" y="358.81" width="18.0" height="10.91" fill="#6565ff"/>
<rect x="531.4" y="358.81" width="17.9" height="10.91" fill="#8585ff"/>
<rect x="549.0" y="358.81" width="18.0" height="10.91" fill="#0000ff"/>
<rect x="566.7" y="358.81" width="18.0" height="10.91" fill="#ff4545"/>
<rect x="584.4" y="358.81" width="18.1" height="10.91" fill="#0000ff"/>
<rect x="602.2" y="358.81" width="18.1" height="10.91" fill="#ff6565"/>
<rect x="620.0" y="358.81" width="18.3" height="10.91" fill="#ff0000"/>
<text x="491.0" y="367.2" font-size="9.75" text-anchor="end">Sp100</text>
<rect x="496.0" y="369.42" width="18.0" height="10.91" fill="#0000ff"/>
<rect x="513.7" y="369.42" width="18.0" height="10.91" fill="#2323ff"/>
<rect x="531.4" y="369.42" width="17.9" height="10.91" fill="#2323ff"/>
<rect x="549.0" y="369.42" width="18.0" height="10.91" fill="#4545ff"/>
<rect x="566.7" y="369.42" width="18.0" height="10.91" fill="#ffbebe"/>
<rect x="584.4" y="369.42" width="18.1" height="10.91" fill="#ff8585"/>
<rect x="602.2" y="369.42" width="18.1" height="10.91" fill="#ffbebe"/>
<rect x="620.0" y="369.42" width="18.3" height="10.91" fill="#ff0000"/>
<text x="491.0" y="377.8" font-size="9.75" text-anchor="end">H2-Eb1</text>
<rect x="496.0" y="380.02" width="18.0" height="10.91" fill="#0000ff"/>
<rect x="513.7" y="380.02" width="18.0" height="10.91" fill="#fff6f6"/>
<rect x="531.4" y="380.02" width="17.9" height="10.91" fill="#0000ff"/>
<rect x="549.0" y="380.02" width="18.0" height="10.91" fill="#0000ff"/>
<rect x="566.7" y="380.02" width="18.0" height="10.91" fill="#ff0000"/>
<rect x="584.4" y="380.02" width="18.1" height="10.91" fill="#ffbebe"/>
<rect x="602.2" y="380.02" width="18.1" height="10.91" fill="#0000ff"/>
<rect x="620.0" y="380.02" width="18.3" height="10.91" fill="#ff0000"/>
<text x="491.0" y="388.4" font-size="9.75" text-anchor="end">Hpx</text>
<rect x="496.0" y="390.63" width="18.0" height="10.91" fill="#0000ff"/>
<rect x="513.7" y="390.63" width="18.0" height="10.91" fill="#2323ff"/>
<rect x="531.4" y="390.63" width="17.9" height="10.91" fill="#2323ff"/>
<rect x="549.0" y="390.63" width="18.0" height="10.91" fill="#2323ff"/>
<rect x="566.7" y="390.63" width="18.0" height="10.91" fill="#ffbebe"/>
<rect x="584.4" y="390.63" width="18.1" height="10.91" fill="#ffa2a2"/>
<rect x="602.2" y="390.63" width="18.1" height="10.91" fill="#ffa2a2"/>
<rect x="620.0" y="390.63" width="18.3" height="10.91" fill="#ff0000"/>
<text x="491.0" y="399.0" font-size="9.75" text-anchor="end">H2-Ab1</text>
<rect x="496.0" y="401.24" width="18.0" height="10.91" fill="#2323ff"/>
<rect x="513.7" y="401.24" width="18.0" height="10.91" fill="#2323ff"/>
<rect x="531.4" y="401.24" width="17.9" height="10.91" fill="#2323ff"/>
<rect x="549.0" y="401.24" width="18.0" height="10.91" fill="#0000ff"/>
<rect x="566.7" y="401.24" width="18.0" height="10.91" fill="#ff8585"/>
<rect x="584.4" y="401.24" width="18.1" height="10.91" fill="#ffd8d8"/>
<rect x="602.2" y="401.24" width="18.1" height="10.91" fill="#ffbebe"/>
<rect x="620.0" y="401.24" width="18.3" height="10.91" fill="#ff0000"/>
<text x="491.0" y="409.6" font-size="9.75" text-anchor="end">Ciita</text>
<rect x="496.0" y="411.84" width="18.0" height="10.91" fill="#0000ff"/>
<rect x="513.7" y="411.84" width="18.0" height="10.91" fill="#2323ff"/>
<rect x="531.4" y="411.84" width="17.9" height="10.91" fill="#0000ff"/>
<rect x="549.0" y="411.84" width="18.0" height="10.91" fill="#8585ff"/>
<rect x="566.7" y="411.84" width="18.0" height="10.91" fill="#ffefef"/>
<rect x="584.4" y="411.84" width="18.1" height="10.91" fill="#ffffff"/>
<rect x="602.2" y="411.84" width="18.1" height="10.91" fill="#ff2323"/>
<rect x="620.0" y="411.84" width="18.3" height="10.91" fill="#ff0000"/>
<text x="491.0" y="420.2" font-size="9.75" text-anchor="end">Bst2</text>
<rect x="496.0" y="422.45" width="18.0" height="10.91" fill="#0000ff"/>
<rect x="513.7" y="422.45" width="18.0" height="10.91" fill="#2323ff"/>
<rect x="531.4" y="422.45" width="17.9" height="10.91" fill="#2323ff"/>
<rect x="549.0" y="422.45" width="18.0" height="10.91" fill="#4545ff"/>
<rect x="566.7" y="422.45" width="18.0" height="10.91" fill="#ffa2a2"/>
<rect x="584.4" y="422.45" width="18.1" height="10.91" fill="#ffa2a2"/>
<rect x="602.2" y="422.45" width="18.1" height="10.91" fill="#ffd8d8"/>
<rect x="620.0" y="422.45" width="18.3" height="10.91" fill="#ff0000"/>
<text x="491.0" y="430.9" font-size="9.75" text-anchor="end">H2-Aa</text>
<rect x="496.0" y="433.05" width="18.0" height="10.91" fill="#0000ff"/>
<rect x="513.7" y="433.05" width="18.0" height="10.91" fill="#2323ff"/>
<rect x="531.4" y="433.05" width="17.9" height="10.91" fill="#0000ff"/>
<rect x="549.0" y="433.05" width="18.0" height="10.91" fill="#ffffff"/>
<rect x="566.7" y="433.05" width="18.0" height="10.91" fill="#ffefef"/>
<rect x="584.4" y="433.05" width="18.1" height="10.91" fill="#ffd8d8"/>
<rect x="602.2" y="433.05" width="18.1" height="10.91" fill="#ff4545"/>
<rect x="620.0" y="433.05" width="18.3" height="10.91" fill="#ff0000"/>
<text x="491.0" y="441.5" font-size="9.75" text-anchor="end">Tgtp1</text>
<rect x="496.0" y="443.66" width="18.0" height="10.91" fill="#0000ff"/>
<rect x="513.7" y="443.66" width="18.0" height="10.91" fill="#8585ff"/>
<rect x="531.4" y="443.66" width="17.9" height="10.91" fill="#0000ff"/>
<rect x="549.0" y="443.66" width="18.0" height="10.91" fill="#d8d8ff"/>
<rect x="566.7" y="443.66" width="18.0" height="10.91" fill="#ff8585"/>
<rect x="584.4" y="443.66" width="18.1" height="10.91" fill="#ffd8d8"/>
<rect x="602.2" y="443.66" width="18.1" height="10.91" fill="#ffa2a2"/>
<rect x="620.0" y="443.66" width="18.3" height="10.91" fill="#ff0404"/>
<text x="491.0" y="452.1" font-size="9.75" text-anchor="end">Gbp4</text>
<rect x="496.0" y="454.27" width="18.0" height="10.91" fill="#4545ff"/>
<rect x="513.7" y="454.27" width="18.0" height="10.91" fill="#0000ff"/>
<rect x="531.4" y="454.27" width="17.9" height="10.91" fill="#8585ff"/>
<rect x="549.0" y="454.27" width="18.0" height="10.91" fill="#6565ff"/>
<rect x="566.7" y="454.27" width="18.0" height="10.91" fill="#ff4545"/>
<rect x="584.4" y="454.27" width="18.1" height="10.91" fill="#ffd8d8"/>
<rect x="602.2" y="454.27" width="18.1" height="10.91" fill="#efefff"/>
<rect x="620.0" y="454.27" width="18.3" height="10.91" fill="#ff0707"/>
<text x="491.0" y="462.7" font-size="9.75" text-anchor="end">Gbp8</text>
<rect x="496.0" y="464.87" width="18.0" height="10.91" fill="#6565ff"/>
<rect x="513.7" y="464.87" width="18.0" height="10.91" fill="#6565ff"/>
<rect x="531.4" y="464.87" width="17.9" height="10.91" fill="#8585ff"/>
<rect x="549.0" y="464.87" width="18.0" height="10.91" fill="#4545ff"/>
<rect x="566.7" y="464.87" width="18.0" height="10.91" fill="#ffa2a2"/>
<rect x="584.4" y="464.87" width="18.1" height="10.91" fill="#ffbebe"/>
<rect x="602.2" y="464.87" width="18.1" height="10.91" fill="#ffefef"/>
<rect x="620.0" y="464.87" width="18.3" height="10.91" fill="#ff3131"/>
<text x="491.0" y="473.3" font-size="9.75" text-anchor="end">Cd74</text>
<rect x="496.0" y="475.48" width="18.0" height="10.91" fill="#4545ff"/>
<rect x="513.7" y="475.48" width="18.0" height="10.91" fill="#6565ff"/>
<rect x="531.4" y="475.48" width="17.9" height="10.91" fill="#4545ff"/>
<rect x="549.0" y="475.48" width="18.0" height="10.91" fill="#bebeff"/>
<rect x="566.7" y="475.48" width="18.0" height="10.91" fill="#ffefef"/>
<rect x="584.4" y="475.48" width="18.1" height="10.91" fill="#ffd8d8"/>
<rect x="602.2" y="475.48" width="18.1" height="10.91" fill="#ff8585"/>
<rect x="620.0" y="475.48" width="18.3" height="10.91" fill="#ff3737"/>
<text x="491.0" y="483.9" font-size="9.75" text-anchor="end">Gbp3</text>
<rect x="496.0" y="486.08" width="18.0" height="10.91" fill="#4545ff"/>
<rect x="513.7" y="486.08" width="18.0" height="10.91" fill="#6565ff"/>
<rect x="531.4" y="486.08" width="17.9" height="10.91" fill="#6565ff"/>
<rect x="549.0" y="486.08" width="18.0" height="10.91" fill="#d8d8ff"/>
<rect x="566.7" y="486.08" width="18.0" height="10.91" fill="#ffd8d8"/>
<rect x="584.4" y="486.08" width="18.1" height="10.91" fill="#ffd8d8"/>
<rect x="602.2" y="486.08" width="18.1" height="10.91" fill="#ff8585"/>
<rect x="620.0" y="486.08" width="18.3" height="10.91" fill="#ff3e3e"/>
<text x="491.0" y="494.5" font-size="9.75" text-anchor="end">Igtp</text>
<rect x="496.0" y="496.69" width="18.0" height="10.91" fill="#a2a2ff"/>
<rect x="513.7" y="496.69" width="18.0" height="10.91" fill="#0000ff"/>
<rect x="531.4" y="496.69" width="17.9" height="10.91" fill="#6565ff"/>
<rect x="549.0" y="496.69" width="18.0" height="10.91" fill="#bebeff"/>
<rect x="566.7" y="496.69" width="18.0" height="10.91" fill="#ffd8d8"/>
<rect x="584.4" y="496.69" width="18.1" height="10.91" fill="#ffefef"/>
<rect x="602.2" y="496.69" width="18.1" height="10.91" fill="#ff6565"/>
<rect x="620.0" y="496.69" width="18.3" height="10.91" fill="#ff4040"/>
<text x="491.0" y="505.1" font-size="9.75" text-anchor="end">Gbp10</text>
<rect x="496.0" y="507.30" width="18.0" height="10.91" fill="#4545ff"/>
<rect x="513.7" y="507.30" width="18.0" height="10.91" fill="#6565ff"/>
<rect x="531.4" y="507.30" width="17.9" height="10.91" fill="#6565ff"/>
<rect x="549.0" y="507.30" width="18.0" height="10.91" fill="#d8d8ff"/>
<rect x="566.7" y="507.30" width="18.0" height="10.91" fill="#efefff"/>
<rect x="584.4" y="507.30" width="18.1" height="10.91" fill="#ffd8d8"/>
<rect x="602.2" y="507.30" width="18.1" height="10.91" fill="#ff6565"/>
<rect x="620.0" y="507.30" width="18.3" height="10.91" fill="#ff4545"/>
<text x="491.0" y="515.7" font-size="9.75" text-anchor="end">Gbp7</text>
<rect x="496.0" y="517.90" width="18.0" height="10.91" fill="#0000ff"/>
<rect x="513.7" y="517.90" width="18.0" height="10.91" fill="#d8d8ff"/>
<rect x="531.4" y="517.90" width="17.9" height="10.91" fill="#0000ff"/>
<rect x="549.0" y="517.90" width="18.0" height="10.91" fill="#ffffff"/>
<rect x="566.7" y="517.90" width="18.0" height="10.91" fill="#ff4545"/>
<rect x="584.4" y="517.90" width="18.1" height="10.91" fill="#ffbebe"/>
<rect x="602.2" y="517.90" width="18.1" height="10.91" fill="#4545ff"/>
<rect x="620.0" y="517.90" width="18.3" height="10.91" fill="#ff4f4f"/>
<text x="491.0" y="526.3" font-size="9.75" text-anchor="end">Cdc42ep2</text>
<rect x="496.0" y="528.51" width="18.0" height="10.91" fill="#ffbebe"/>
<rect x="513.7" y="528.51" width="18.0" height="10.91" fill="#4545ff"/>
<rect x="531.4" y="528.51" width="17.9" height="10.91" fill="#0000ff"/>
<rect x="549.0" y="528.51" width="18.0" height="10.91" fill="#0000ff"/>
<rect x="566.7" y="528.51" width="18.0" height="10.91" fill="#ff0000"/>
<rect x="584.4" y="528.51" width="18.1" height="10.91" fill="#0000ff"/>
<rect x="602.2" y="528.51" width="18.1" height="10.91" fill="#0000ff"/>
<rect x="620.0" y="528.51" width="18.3" height="10.91" fill="#ff4f4f"/>
<text x="491.0" y="536.9" font-size="9.75" text-anchor="end">Ccl11</text>
<rect x="496.0" y="539.11" width="18.0" height="10.91" fill="#2323ff"/>
<rect x="513.7" y="539.11" width="18.0" height="10.91" fill="#4545ff"/>
<rect x="531.4" y="539.11" width="17.9" height="10.91" fill="#4545ff"/>
<rect x="549.0" y="539.11" width="18.0" height="10.91" fill="#ffffff"/>
<rect x="566.7" y="539.11" width="18.0" height="10.91" fill="#ffd8d8"/>
<rect x="584.4" y="539.11" width="18.1" height="10.91" fill="#ffbebe"/>
<rect x="602.2" y="539.11" width="18.1" height="10.91" fill="#ffbebe"/>
<rect x="620.0" y="539.11" width="18.3" height="10.91" fill="#ff5858"/>
<text x="491.0" y="547.5" font-size="9.75" text-anchor="end">Irgm2</text>
<rect x="496.0" y="549.72" width="18.0" height="10.91" fill="#2323ff"/>
<rect x="513.7" y="549.72" width="18.0" height="10.91" fill="#8585ff"/>
<rect x="531.4" y="549.72" width="17.9" height="10.91" fill="#0000ff"/>
<rect x="549.0" y="549.72" width="18.0" height="10.91" fill="#efefff"/>
<rect x="566.7" y="549.72" width="18.0" height="10.91" fill="#ffbebe"/>
<rect x="584.4" y="549.72" width="18.1" height="10.91" fill="#ffd8d8"/>
<rect x="602.2" y="549.72" width="18.1" height="10.91" fill="#ffbebe"/>
<rect x="620.0" y="549.72" width="18.3" height="10.91" fill="#ff5f5f"/>
<text x="491.0" y="558.1" font-size="9.75" text-anchor="end">Irf1</text>
<rect x="496.0" y="560.33" width="18.0" height="10.91" fill="#2323ff"/>
<rect x="513.7" y="560.33" width="18.0" height="10.91" fill="#6565ff"/>
<rect x="531.4" y="560.33" width="17.9" height="10.91" fill="#4545ff"/>
<rect x="549.0" y="560.33" width="18.0" height="10.91" fill="#efefff"/>
<rect x="566.7" y="560.33" width="18.0" height="10.91" fill="#ffbebe"/>
<rect x="584.4" y="560.33" width="18.1" height="10.91" fill="#ffefef"/>
<rect x="602.2" y="560.33" width="18.1" height="10.91" fill="#ffa2a2"/>
<rect x="620.0" y="560.33" width="18.3" height="10.91" fill="#ff6565"/>
<text x="491.0" y="568.7" font-size="9.75" text-anchor="end">Gbp6</text>
<rect x="496.0" y="570.93" width="18.0" height="10.91" fill="#2323ff"/>
<rect x="513.7" y="570.93" width="18.0" height="10.91" fill="#6565ff"/>
<rect x="531.4" y="570.93" width="17.9" height="10.91" fill="#d8d8ff"/>
<rect x="549.0" y="570.93" width="18.0" height="10.91" fill="#8585ff"/>
<rect x="566.7" y="570.93" width="18.0" height="10.91" fill="#a2a2ff"/>
<rect x="584.4" y="570.93" width="18.1" height="10.91" fill="#ffd8d8"/>
<rect x="602.2" y="570.93" width="18.1" height="10.91" fill="#ff6565"/>
<rect x="620.0" y="570.93" width="18.3" height="10.91" fill="#ff6969"/>
<text x="491.0" y="579.3" font-size="9.75" text-anchor="end">Gbp5</text>
<rect x="496.0" y="581.54" width="18.0" height="10.91" fill="#4545ff"/>
<rect x="513.7" y="581.54" width="18.0" height="10.91" fill="#4545ff"/>
<rect x="531.4" y="581.54" width="17.9" height="10.91" fill="#6565ff"/>
<rect x="549.0" y="581.54" width="18.0" height="10.91" fill="#efefff"/>
<rect x="566.7" y="581.54" width="18.0" height="10.91" fill="#ffefef"/>
<rect x="584.4" y="581.54" width="18.1" height="10.91" fill="#ffbebe"/>
<rect x="602.2" y="581.54" width="18.1" height="10.91" fill="#ffa2a2"/>
<rect x="620.0" y="581.54" width="18.3" height="10.91" fill="#ff6f6f"/>
<text x="491.0" y="589.9" font-size="9.75" text-anchor="end">Ifitm3</text>
<rect x="496.0" y="592.14" width="18.0" height="10.91" fill="#8585ff"/>
<rect x="513.7" y="592.14" width="18.0" height="10.91" fill="#6565ff"/>
<rect x="531.4" y="592.14" width="17.9" height="10.91" fill="#a2a2ff"/>
<rect x="549.0" y="592.14" width="18.0" height="10.91" fill="#a2a2ff"/>
<rect x="566.7" y="592.14" width="18.0" height="10.91" fill="#ffd8d8"/>
<rect x="584.4" y="592.14" width="18.1" height="10.91" fill="#efefff"/>
<rect x="602.2" y="592.14" width="18.1" height="10.91" fill="#ff8585"/>
<rect x="620.0" y="592.14" width="18.3" height="10.91" fill="#ff7b7b"/>
<text x="491.0" y="600.5" font-size="9.75" text-anchor="end">Parp9</text>
<rect x="496.0" y="602.75" width="18.0" height="10.91" fill="#4545ff"/>
<rect x="513.7" y="602.75" width="18.0" height="10.91" fill="#6565ff"/>
<rect x="531.4" y="602.75" width="17.9" height="10.91" fill="#8585ff"/>
<rect x="549.0" y="602.75" width="18.0" height="10.91" fill="#ffffff"/>
<rect x="566.7" y="602.75" width="18.0" height="10.91" fill="#ffbebe"/>
<rect x="584.4" y="602.75" width="18.1" height="10.91" fill="#ffbebe"/>
<rect x="602.2" y="602.75" width="18.1" height="10.91" fill="#ffbebe"/>
<rect x="620.0" y="602.75" width="18.3" height="10.91" fill="#ff7f7f"/>
<text x="491.0" y="611.2" font-size="9.75" text-anchor="end">Irgm1</text>
<rect x="496.0" y="613.36" width="18.0" height="10.91" fill="#4545ff"/>
<rect x="513.7" y="613.36" width="18.0" height="10.91" fill="#bebeff"/>
<rect x="531.4" y="613.36" width="17.9" height="10.91" fill="#0000ff"/>
<rect x="549.0" y="613.36" width="18.0" height="10.91" fill="#ffffff"/>
<rect x="566.7" y="613.36" width="18.0" height="10.91" fill="#ff6565"/>
<rect x="584.4" y="613.36" width="18.1" height="10.91" fill="#ffefef"/>
<rect x="602.2" y="613.36" width="18.1" height="10.91" fill="#d8d8ff"/>
<rect x="620.0" y="613.36" width="18.3" height="10.91" fill="#ff8282"/>
<text x="491.0" y="621.8" font-size="9.75" text-anchor="end">Nlrc5</text>
<rect x="496.0" y="623.96" width="18.0" height="10.91" fill="#4545ff"/>
<rect x="513.7" y="623.96" width="18.0" height="10.91" fill="#8585ff"/>
<rect x="531.4" y="623.96" width="17.9" height="10.91" fill="#a2a2ff"/>
<rect x="549.0" y="623.96" width="18.0" height="10.91" fill="#efefff"/>
<rect x="566.7" y="623.96" width="18.0" height="10.91" fill="#ffbebe"/>
<rect x="584.4" y="623.96" width="18.1" height="10.91" fill="#ffefef"/>
<rect x="602.2" y="623.96" width="18.1" height="10.91" fill="#ffbebe"/>
<rect x="620.0" y="623.96" width="18.3" height="10.91" fill="#ff8585"/>
<text x="491.0" y="632.4" font-size="9.75" text-anchor="end">Stat1</text>
<rect x="496.0" y="634.57" width="18.0" height="10.91" fill="#6565ff"/>
<rect x="513.7" y="634.57" width="18.0" height="10.91" fill="#8585ff"/>
<rect x="531.4" y="634.57" width="17.9" height="10.91" fill="#4545ff"/>
<rect x="549.0" y="634.57" width="18.0" height="10.91" fill="#bebeff"/>
<rect x="566.7" y="634.57" width="18.0" height="10.91" fill="#ffbebe"/>
<rect x="584.4" y="634.57" width="18.1" height="10.91" fill="#ffefef"/>
<rect x="602.2" y="634.57" width="18.1" height="10.91" fill="#ffa2a2"/>
<rect x="620.0" y="634.57" width="18.3" height="10.91" fill="#ff8b8b"/>
<text x="491.0" y="643.0" font-size="9.75" text-anchor="end">Gbp9</text>
<rect x="496.0" y="645.17" width="18.0" height="10.91" fill="#d8d8ff"/>
<rect x="513.7" y="645.17" width="18.0" height="10.91" fill="#8585ff"/>
<rect x="531.4" y="645.17" width="17.9" height="10.91" fill="#8585ff"/>
<rect x="549.0" y="645.17" width="18.0" height="10.91" fill="#a2a2ff"/>
<rect x="566.7" y="645.17" width="18.0" height="10.91" fill="#ffbebe"/>
<rect x="584.4" y="645.17" width="18.1" height="10.91" fill="#efefff"/>
<rect x="602.2" y="645.17" width="18.1" height="10.91" fill="#ffa2a2"/>
<rect x="620.0" y="645.17" width="18.3" height="10.91" fill="#ff9494"/>
<text x="491.0" y="653.6" font-size="9.75" text-anchor="end">Parp14</text>
<rect x="496.0" y="655.78" width="18.0" height="10.91" fill="#0000ff"/>
<rect x="513.7" y="655.78" width="18.0" height="10.91" fill="#bebeff"/>
<rect x="531.4" y="655.78" width="17.9" height="10.91" fill="#bebeff"/>
<rect x="549.0" y="655.78" width="18.0" height="10.91" fill="#ffd8d8"/>
<rect x="566.7" y="655.78" width="18.0" height="10.91" fill="#ffa2a2"/>
<rect x="584.4" y="655.78" width="18.1" height="10.91" fill="#ff8585"/>
<rect x="602.2" y="655.78" width="18.1" height="10.91" fill="#6565ff"/>
<rect x="620.0" y="655.78" width="18.3" height="10.91" fill="#ff9797"/>
<text x="491.0" y="664.2" font-size="9.75" text-anchor="end">Il12rb1</text>
<rect x="496.0" y="666.39" width="18.0" height="10.91" fill="#0000ff"/>
<rect x="513.7" y="666.39" width="18.0" height="10.91" fill="#8585ff"/>
<rect x="531.4" y="666.39" width="17.9" height="10.91" fill="#0000ff"/>
<rect x="549.0" y="666.39" width="18.0" height="10.91" fill="#ffd8d8"/>
<rect x="566.7" y="666.39" width="18.0" height="10.91" fill="#d8d8ff"/>
<rect x="584.4" y="666.39" width="18.1" height="10.91" fill="#ffbebe"/>
<rect x="602.2" y="666.39" width="18.1" height="10.91" fill="#ffd8d8"/>
<rect x="620.0" y="666.39" width="18.3" height="10.91" fill="#ff9a9a"/>
<text x="491.0" y="674.8" font-size="9.75" text-anchor="end">Casp1</text>
<rect x="496.0" y="676.99" width="18.0" height="10.91" fill="#d8d8ff"/>
<rect x="513.7" y="676.99" width="18.0" height="10.91" fill="#a2a2ff"/>
<rect x="531.4" y="676.99" width="17.9" height="10.91" fill="#6565ff"/>
<rect x="549.0" y="676.99" width="18.0" height="10.91" fill="#d8d8ff"/>
<rect x="566.7" y="676.99" width="18.0" height="10.91" fill="#ffefef"/>
<rect x="584.4" y="676.99" width="18.1" height="10.91" fill="#ffd8d8"/>
<rect x="602.2" y="676.99" width="18.1" height="10.91" fill="#ffbebe"/>
<rect x="620.0" y="676.99" width="18.3" height="10.91" fill="#ff9d9d"/>
<text x="491.0" y="685.4" font-size="9.75" text-anchor="end">Trim21</text>
<rect x="496.0" y="687.60" width="18.0" height="10.91" fill="#ffd8d8"/>
<rect x="513.7" y="687.60" width="18.0" height="10.91" fill="#efefff"/>
<rect x="531.4" y="687.60" width="17.9" height="10.91" fill="#0000ff"/>
<rect x="549.0" y="687.60" width="18.0" height="10.91" fill="#0000ff"/>
<rect x="566.7" y="687.60" width="18.0" height="10.91" fill="#0000ff"/>
<rect x="584.4" y="687.60" width="18.1" height="10.91" fill="#bebeff"/>
<rect x="602.2" y="687.60" width="18.1" height="10.91" fill="#ff2323"/>
<rect x="620.0" y="687.60" width="18.3" height="10.91" fill="#ffa5a5"/>
<text x="491.0" y="696.0" font-size="9.75" text-anchor="end">Rab20</text>
<rect x="496.0" y="698.20" width="18.0" height="10.91" fill="#8585ff"/>
<rect x="513.7" y="698.20" width="18.0" height="10.91" fill="#ffffff"/>
<rect x="531.4" y="698.20" width="17.9" height="10.91" fill="#4545ff"/>
<rect x="549.0" y="698.20" width="18.0" height="10.91" fill="#ffffff"/>
<rect x="566.7" y="698.20" width="18.0" height="10.91" fill="#ffd8d8"/>
<rect x="584.4" y="698.20" width="18.1" height="10.91" fill="#ffa2a2"/>
<rect x="602.2" y="698.20" width="18.1" height="10.91" fill="#8585ff"/>
<rect x="620.0" y="698.20" width="18.3" height="10.91" fill="#ffabab"/>
<text x="491.0" y="706.6" font-size="9.75" text-anchor="end">Ifitm2</text>
<rect x="496.0" y="708.81" width="18.0" height="10.91" fill="#0000ff"/>
<rect x="513.7" y="708.81" width="18.0" height="10.91" fill="#ff2323"/>
<rect x="531.4" y="708.81" width="17.9" height="10.91" fill="#0000ff"/>
<rect x="549.0" y="708.81" width="18.0" height="10.91" fill="#0000ff"/>
<rect x="566.7" y="708.81" width="18.0" height="10.91" fill="#0000ff"/>
<rect x="584.4" y="708.81" width="18.1" height="10.91" fill="#0000ff"/>
<rect x="602.2" y="708.81" width="18.1" height="10.91" fill="#ff0000"/>
<rect x="620.0" y="708.81" width="18.3" height="10.91" fill="#ffb1b1"/>
<text x="491.0" y="717.2" font-size="9.75" text-anchor="end">Mefv</text>
<rect x="496.0" y="719.42" width="18.0" height="10.91" fill="#ff8585"/>
<rect x="513.7" y="719.42" width="18.0" height="10.91" fill="#a2a2ff"/>
<rect x="531.4" y="719.42" width="17.9" height="10.91" fill="#0000ff"/>
<rect x="549.0" y="719.42" width="18.0" height="10.91" fill="#0000ff"/>
<rect x="566.7" y="719.42" width="18.0" height="10.91" fill="#ff8585"/>
<rect x="584.4" y="719.42" width="18.1" height="10.91" fill="#ffefef"/>
<rect x="602.2" y="719.42" width="18.1" height="10.91" fill="#4545ff"/>
<rect x="620.0" y="719.42" width="18.3" height="10.91" fill="#ffb6b6"/>
<text x="491.0" y="727.8" font-size="9.75" text-anchor="end">Calcoco2</text>
<rect x="496.0" y="730.02" width="18.0" height="10.91" fill="#d8d8ff"/>
<rect x="513.7" y="730.02" width="18.0" height="10.91" fill="#ffffff"/>
<rect x="531.4" y="730.02" width="17.9" height="10.91" fill="#8585ff"/>
<rect x="549.0" y="730.02" width="18.0" height="10.91" fill="#bebeff"/>
<rect x="566.7" y="730.02" width="18.0" height="10.91" fill="#ffffff"/>
<rect x="584.4" y="730.02" width="18.1" height="10.91" fill="#ffefef"/>
<rect x="602.2" y="730.02" width="18.1" height="10.91" fill="#ffd8d8"/>
<rect x="620.0" y="730.02" width="18.3" height="10.91" fill="#ffc1c1"/>
<text x="491.0" y="738.4" font-size="9.75" text-anchor="end">Cdc37</text>
<rect x="496.0" y="740.63" width="18.0" height="10.91" fill="#6565ff"/>
<rect x="513.7" y="740.63" width="18.0" height="10.91" fill="#ffffff"/>
<rect x="531.4" y="740.63" width="17.9" height="10.91" fill="#efefff"/>
<rect x="549.0" y="740.63" width="18.0" height="10.91" fill="#bebeff"/>
<rect x="566.7" y="740.63" width="18.0" height="10.91" fill="#ffefef"/>
<rect x="584.4" y="740.63" width="18.1" height="10.91" fill="#ffbebe"/>
<rect x="602.2" y="740.63" width="18.1" height="10.91" fill="#0000ff"/>
<rect x="620.0" y="740.63" width="18.3" height="10.91" fill="#ffc9c9"/>
<text x="491.0" y="749.0" font-size="9.75" text-anchor="end">Tlr4</text>
<rect x="496.0" y="751.23" width="18.0" height="10.91" fill="#a2a2ff"/>
<rect x="513.7" y="751.23" width="18.0" height="10.91" fill="#d8d8ff"/>
<rect x="531.4" y="751.23" width="17.9" height="10.91" fill="#ffefef"/>
<rect x="549.0" y="751.23" width="18.0" height="10.91" fill="#bebeff"/>
<rect x="566.7" y="751.23" width="18.0" height="10.91" fill="#ffd8d8"/>
<rect x="584.4" y="751.23" width="18.1" height="10.91" fill="#ffffff"/>
<rect x="602.2" y="751.23" width="18.1" height="10.91" fill="#ffffff"/>
<rect x="620.0" y="751.23" width="18.3" height="10.91" fill="#ffcece"/>
<text x="491.0" y="759.6" font-size="9.75" text-anchor="end">Cxcl16</text>
<rect x="496.0" y="761.84" width="18.0" height="10.91" fill="#8585ff"/>
<rect x="513.7" y="761.84" width="18.0" height="10.91" fill="#ffefef"/>
<rect x="531.4" y="761.84" width="17.9" height="10.91" fill="#ffd8d8"/>
<rect x="549.0" y="761.84" width="18.0" height="10.91" fill="#0000ff"/>
<rect x="566.7" y="761.84" width="18.0" height="10.91" fill="#ffd8d8"/>
<rect x="584.4" y="761.84" width="18.1" height="10.91" fill="#2323ff"/>
<rect x="602.2" y="761.84" width="18.1" height="10.91" fill="#ffd8d8"/>
<rect x="620.0" y="761.84" width="18.3" height="10.91" fill="#ffd1d1"/>
<text x="491.0" y="770.2" font-size="9.75" text-anchor="end">Nos2</text>
<rect x="496.0" y="772.45" width="18.0" height="10.91" fill="#2323ff"/>
<rect x="513.7" y="772.45" width="18.0" height="10.91" fill="#bebeff"/>
<rect x="531.4" y="772.45" width="17.9" height="10.91" fill="#ffefef"/>
<rect x="549.0" y="772.45" width="18.0" height="10.91" fill="#ffffff"/>
<rect x="566.7" y="772.45" width="18.0" height="10.91" fill="#ffd8d8"/>
<rect x="584.4" y="772.45" width="18.1" height="10.91" fill="#ffefef"/>
<rect x="602.2" y="772.45" width="18.1" height="10.91" fill="#a2a2ff"/>
<rect x="620.0" y="772.45" width="18.3" height="10.91" fill="#ffd3d3"/>
<text x="491.0" y="780.8" font-size="9.75" text-anchor="end">Slc22a5</text>
<rect x="496.0" y="783.05" width="18.0" height="10.91" fill="#ffefef"/>
<rect x="513.7" y="783.05" width="18.0" height="10.91" fill="#efefff"/>
<rect x="531.4" y="783.05" width="17.9" height="10.91" fill="#6565ff"/>
<rect x="549.0" y="783.05" width="18.0" height="10.91" fill="#6565ff"/>
<rect x="566.7" y="783.05" width="18.0" height="10.91" fill="#efefff"/>
<rect x="584.4" y="783.05" width="18.1" height="10.91" fill="#ffefef"/>
<rect x="602.2" y="783.05" width="18.1" height="10.91" fill="#ffffff"/>
<rect x="620.0" y="783.05" width="18.3" height="10.91" fill="#ffd6d6"/>
<text x="491.0" y="791.5" font-size="9.75" text-anchor="end">Slc26a6</text>
<rect x="496.0" y="793.66" width="18.0" height="10.91" fill="#d8d8ff"/>
<rect x="513.7" y="793.66" width="18.0" height="10.91" fill="#ffffff"/>
<rect x="531.4" y="793.66" width="17.9" height="10.91" fill="#a2a2ff"/>
<rect x="549.0" y="793.66" width="18.0" height="10.91" fill="#ffffff"/>
<rect x="566.7" y="793.66" width="18.0" height="10.91" fill="#d8d8ff"/>
<rect x="584.4" y="793.66" width="18.1" height="10.91" fill="#ffefef"/>
<rect x="602.2" y="793.66" width="18.1" height="10.91" fill="#ffd8d8"/>
<rect x="620.0" y="793.66" width="18.3" height="10.91" fill="#ffd8d8"/>
<text x="491.0" y="802.1" font-size="9.75" text-anchor="end">Daxx</text>
<rect x="496.0" y="804.26" width="18.0" height="10.91" fill="#0000ff"/>
<rect x="513.7" y="804.26" width="18.0" height="10.91" fill="#0000ff"/>
<rect x="531.4" y="804.26" width="17.9" height="10.91" fill="#ff2323"/>
<rect x="549.0" y="804.26" width="18.0" height="10.91" fill="#0000ff"/>
<rect x="566.7" y="804.26" width="18.0" height="10.91" fill="#ff4545"/>
<rect x="584.4" y="804.26" width="18.1" height="10.91" fill="#0000ff"/>
<rect x="602.2" y="804.26" width="18.1" height="10.91" fill="#2323ff"/>
<rect x="620.0" y="804.26" width="18.3" height="10.91" fill="#ffdbdb"/>
<text x="491.0" y="812.7" font-size="9.75" text-anchor="end">Ccl22</text>
<rect x="496.0" y="814.87" width="18.0" height="10.91" fill="#d8d8ff"/>
<rect x="513.7" y="814.87" width="18.0" height="10.91" fill="#efefff"/>
<rect x="531.4" y="814.87" width="17.9" height="10.91" fill="#0000ff"/>
<rect x="549.0" y="814.87" width="18.0" height="10.91" fill="#ffd8d8"/>
<rect x="566.7" y="814.87" width="18.0" height="10.91" fill="#8585ff"/>
<rect x="584.4" y="814.87" width="18.1" height="10.91" fill="#ffffff"/>
<rect x="602.2" y="814.87" width="18.1" height="10.91" fill="#ffbebe"/>
<rect x="620.0" y="814.87" width="18.3" height="10.91" fill="#ffdddd"/>
<text x="491.0" y="823.3" font-size="9.75" text-anchor="end">Irf8</text>
<rect x="496.0" y="825.48" width="18.0" height="10.91" fill="#6565ff"/>
<rect x="513.7" y="825.48" width="18.0" height="10.91" fill="#ffefef"/>
<rect x="531.4" y="825.48" width="17.9" height="10.91" fill="#efefff"/>
<rect x="549.0" y="825.48" width="18.0" height="10.91" fill="#ffefef"/>
<rect x="566.7" y="825.48" width="18.0" height="10.91" fill="#bebeff"/>
<rect x="584.4" y="825.48" width="18.1" height="10.91" fill="#ffbebe"/>
<rect x="602.2" y="825.48" width="18.1" height="10.91" fill="#efefff"/>
<rect x="620.0" y="825.48" width="18.3" height="10.91" fill="#ffdddd"/>
<text x="491.0" y="833.9" font-size="9.75" text-anchor="end">Ifngr1</text>
<rect x="496.0" y="836.08" width="18.0" height="10.91" fill="#8585ff"/>
<rect x="513.7" y="836.08" width="18.0" height="10.91" fill="#d8d8ff"/>
<rect x="531.4" y="836.08" width="17.9" height="10.91" fill="#bebeff"/>
<rect x="549.0" y="836.08" width="18.0" height="10.91" fill="#ffefef"/>
<rect x="566.7" y="836.08" width="18.0" height="10.91" fill="#a2a2ff"/>
<rect x="584.4" y="836.08" width="18.1" height="10.91" fill="#ffefef"/>
<rect x="602.2" y="836.08" width="18.1" height="10.91" fill="#ffd8d8"/>
<rect x="620.0" y="836.08" width="18.3" height="10.91" fill="#ffdfdf"/>
<text x="491.0" y="844.5" font-size="9.75" text-anchor="end">Actg1</text>
<rect x="496.0" y="846.69" width="18.0" height="10.91" fill="#bebeff"/>
<rect x="513.7" y="846.69" width="18.0" height="10.91" fill="#ffefef"/>
<rect x="531.4" y="846.69" width="17.9" height="10.91" fill="#ffefef"/>
<rect x="549.0" y="846.69" width="18.0" height="10.91" fill="#4545ff"/>
<rect x="566.7" y="846.69" width="18.0" height="10.91" fill="#bebeff"/>
<rect x="584.4" y="846.69" width="18.1" height="10.91" fill="#d8d8ff"/>
<rect x="602.2" y="846.69" width="18.1" height="10.91" fill="#ffbebe"/>
<rect x="620.0" y="846.69" width="18.3" height="10.91" fill="#ffdfdf"/>
<text x="491.0" y="855.1" font-size="9.75" text-anchor="end">Dnaja3</text>
<rect x="496.0" y="857.29" width="18.0" height="10.91" fill="#ffefef"/>
<rect x="513.7" y="857.29" width="18.0" height="10.91" fill="#ffbebe"/>
<rect x="531.4" y="857.29" width="17.9" height="10.91" fill="#0000ff"/>
<rect x="549.0" y="857.29" width="18.0" height="10.91" fill="#0000ff"/>
<rect x="566.7" y="857.29" width="18.0" height="10.91" fill="#ffefef"/>
<rect x="584.4" y="857.29" width="18.1" height="10.91" fill="#ffd8d8"/>
<rect x="602.2" y="857.29" width="18.1" height="10.91" fill="#0000ff"/>
<rect x="620.0" y="857.29" width="18.3" height="10.91" fill="#ffe2e2"/>
<text x="491.0" y="865.7" font-size="9.75" text-anchor="end">Ccl19</text>
<rect x="496.0" y="337.6" width="142.0" height="531.2" fill="none" stroke="#000" stroke-width="1.1"/>
<line x1="566.7" y1="337.6" x2="566.7" y2="867.9" stroke="#000" stroke-width="1.3"/>
<line x1="620.0" y1="337.6" x2="620.0" y2="867.9" stroke="#000" stroke-width="1.3"/>
<text x="526.0" y="878.4" font-size="9.1" text-anchor="middle" fill="#1818ff">H3.3-Wt</text>
<text x="526.0" y="887.7" font-size="9.1" text-anchor="middle" fill="#1818ff">pHGG</text>
<text x="587.5" y="878.4" font-size="9.1" text-anchor="middle" fill="#f01010">H3.3-G34R</text>
<text x="587.5" y="887.7" font-size="9.1" text-anchor="middle" fill="#f01010">pHGG</text>
<text x="629.8" y="879.6" font-size="8.2" text-anchor="middle">Ratio</text>
<text x="629.8" y="888.4" font-size="8.2" text-anchor="middle">G34R/Wt</text>
</g>
<g id="panelE">
<text x="4.3" y="590.2" font-size="21.3">E</text>
<text x="57.5" y="586.3" font-size="10.92">Mouse pHGG cells transcriptome: positively enriched GO network</text>
<g stroke="#6a6a6a" stroke-opacity="0.8"><line x1="94.0" y1="633.3" x2="208.0" y2="630.0" stroke-width="0.6"/><line x1="94.0" y1="633.3" x2="157.0" y2="677.6" stroke-width="0.6"/><line x1="94.0" y1="633.3" x2="38.2" y2="666.8" stroke-width="0.5"/><line x1="94.0" y1="633.3" x2="63.5" y2="708.0" stroke-width="0.4"/><line x1="94.0" y1="633.3" x2="131.8" y2="735.0" stroke-width="0.5"/><line x1="94.0" y1="633.3" x2="209.5" y2="730.0" stroke-width="0.6"/><line x1="94.0" y1="633.3" x2="277.0" y2="694.5" stroke-width="0.6"/><line x1="94.0" y1="633.3" x2="91.0" y2="802.8" stroke-width="0.7"/><line x1="94.0" y1="633.3" x2="296.0" y2="750.4" stroke-width="0.4"/><line x1="94.0" y1="633.3" x2="52.4" y2="763.0" stroke-width="0.4"/><line x1="38.2" y1="666.8" x2="157.0" y2="677.6" stroke-width="1.3"/><line x1="38.2" y1="666.8" x2="208.0" y2="630.0" stroke-width="0.6"/><line x1="38.2" y1="666.8" x2="131.8" y2="735.0" stroke-width="0.6"/><line x1="38.2" y1="666.8" x2="209.5" y2="730.0" stroke-width="0.5"/><line x1="38.2" y1="666.8" x2="277.0" y2="694.5" stroke-width="0.6"/><line x1="38.2" y1="666.8" x2="63.5" y2="708.0" stroke-width="0.4"/><line x1="38.2" y1="666.8" x2="296.0" y2="750.4" stroke-width="0.4"/><line x1="63.5" y1="708.0" x2="208.0" y2="630.0" stroke-width="0.5"/><line x1="63.5" y1="708.0" x2="157.0" y2="677.6" stroke-width="0.5"/><line x1="63.5" y1="708.0" x2="131.8" y2="735.0" stroke-width="0.6"/><line x1="63.5" y1="708.0" x2="209.5" y2="730.0" stroke-width="0.4"/><line x1="63.5" y1="708.0" x2="277.0" y2="694.5" stroke-width="0.5"/><line x1="63.5" y1="708.0" x2="52.4" y2="763.0" stroke-width="0.4"/><line x1="63.5" y1="708.0" x2="296.0" y2="750.4" stroke-width="0.4"/><line x1="157.0" y1="677.6" x2="208.0" y2="630.0" stroke-width="0.6"/><line x1="157.0" y1="677.6" x2="131.8" y2="735.0" stroke-width="0.9"/><line x1="157.0" y1="677.6" x2="209.5" y2="730.0" stroke-width="0.6"/><line x1="157.0" y1="677.6" x2="277.0" y2="694.5" stroke-width="0.7"/><line x1="157.0" y1="677.6" x2="91.0" y2="802.8" stroke-width="0.6"/><line x1="157.0" y1="677.6" x2="296.0" y2="750.4" stroke-width="0.5"/><line x1="157.0" y1="677.6" x2="242.0" y2="776.8" stroke-width="0.4"/><line x1="52.4" y1="763.0" x2="131.8" y2="735.0" stroke-width="0.7"/><line x1="52.4" y1="763.0" x2="208.0" y2="630.0" stroke-width="0.6"/><line x1="52.4" y1="763.0" x2="209.5" y2="730.0" stroke-width="0.4"/><line x1="52.4" y1="763.0" x2="296.0" y2="750.4" stroke-width="0.5"/><line x1="52.4" y1="763.0" x2="277.0" y2="694.5" stroke-width="0.5"/><line x1="208.0" y1="630.0" x2="277.0" y2="694.5" stroke-width="1.6"/><line x1="208.0" y1="630.0" x2="209.5" y2="730.0" stroke-width="0.7"/><line x1="208.0" y1="630.0" x2="131.8" y2="735.0" stroke-width="0.9"/><line x1="208.0" y1="630.0" x2="296.0" y2="750.4" stroke-width="1.5"/><line x1="208.0" y1="630.0" x2="242.0" y2="776.8" stroke-width="0.7"/><line x1="208.0" y1="630.0" x2="91.0" y2="802.8" stroke-width="1.5"/><line x1="208.0" y1="630.0" x2="291.0" y2="632.7" stroke-width="0.5"/><line x1="208.0" y1="630.0" x2="371.7" y2="655.6" stroke-width="0.4"/><line x1="208.0" y1="630.0" x2="335.0" y2="706.0" stroke-width="0.5"/><line x1="277.0" y1="694.5" x2="209.5" y2="730.0" stroke-width="1.2"/><line x1="277.0" y1="694.5" x2="131.8" y2="735.0" stroke-width="1.6"/><line x1="277.0" y1="694.5" x2="296.0" y2="750.4" stroke-width="1.6"/><line x1="277.0" y1="694.5" x2="242.0" y2="776.8" stroke-width="0.7"/><line x1="277.0" y1="694.5" x2="91.0" y2="802.8" stroke-width="1.3"/><line x1="277.0" y1="694.5" x2="291.0" y2="632.7" stroke-width="0.5"/><line x1="277.0" y1="694.5" x2="371.7" y2="655.6" stroke-width="0.4"/><line x1="277.0" y1="694.5" x2="335.0" y2="706.0" stroke-width="0.5"/><line x1="277.0" y1="694.5" x2="316.6" y2="809.5" stroke-width="0.4"/><line x1="209.5" y1="730.0" x2="131.8" y2="735.0" stroke-width="1.2"/><line x1="209.5" y1="730.0" x2="296.0" y2="750.4" stroke-width="1.2"/><line x1="209.5" y1="730.0" x2="242.0" y2="776.8" stroke-width="1.6"/><line x1="209.5" y1="730.0" x2="91.0" y2="802.8" stroke-width="1.5"/><line x1="209.5" y1="730.0" x2="240.5" y2="814.6" stroke-width="0.6"/><line x1="209.5" y1="730.0" x2="175.7" y2="880.5" stroke-width="0.6"/><line x1="209.5" y1="730.0" x2="316.6" y2="809.5" stroke-width="0.6"/><line x1="209.5" y1="730.0" x2="267.6" y2="876.5" stroke-width="0.5"/><line x1="209.5" y1="730.0" x2="87.0" y2="853.5" stroke-width="0.5"/><line x1="209.5" y1="730.0" x2="164.0" y2="818.0" stroke-width="0.4"/><line x1="209.5" y1="730.0" x2="335.0" y2="706.0" stroke-width="0.6"/><line x1="209.5" y1="730.0" x2="371.7" y2="655.6" stroke-width="0.4"/><line x1="209.5" y1="730.0" x2="379.0" y2="755.5" stroke-width="0.4"/><line x1="296.0" y1="750.4" x2="242.0" y2="776.8" stroke-width="1.0"/><line x1="296.0" y1="750.4" x2="335.0" y2="706.0" stroke-width="0.7"/><line x1="296.0" y1="750.4" x2="379.0" y2="755.5" stroke-width="0.6"/><line x1="296.0" y1="750.4" x2="316.6" y2="809.5" stroke-width="0.6"/><line x1="296.0" y1="750.4" x2="378.0" y2="830.0" stroke-width="0.6"/><line x1="296.0" y1="750.4" x2="131.8" y2="735.0" stroke-width="1.7"/><line x1="296.0" y1="750.4" x2="91.0" y2="802.8" stroke-width="1.0"/><line x1="296.0" y1="750.4" x2="371.7" y2="655.6" stroke-width="0.4"/><line x1="296.0" y1="750.4" x2="164.0" y2="818.0" stroke-width="0.5"/><line x1="296.0" y1="750.4" x2="87.0" y2="853.5" stroke-width="0.5"/><line x1="296.0" y1="750.4" x2="291.0" y2="632.7" stroke-width="0.4"/><line x1="296.0" y1="750.4" x2="267.6" y2="876.5" stroke-width="0.4"/><line x1="335.0" y1="706.0" x2="371.7" y2="655.6" stroke-width="0.6"/><line x1="335.0" y1="706.0" x2="401.0" y2="697.0" stroke-width="0.7"/><line x1="335.0" y1="706.0" x2="379.0" y2="755.5" stroke-width="1.3"/><line x1="335.0" y1="706.0" x2="316.6" y2="809.5" stroke-width="1.1"/><line x1="335.0" y1="706.0" x2="378.0" y2="830.0" stroke-width="0.6"/><line x1="335.0" y1="706.0" x2="242.0" y2="776.8" stroke-width="0.9"/><line x1="335.0" y1="706.0" x2="240.5" y2="814.6" stroke-width="0.6"/><line x1="335.0" y1="706.0" x2="267.6" y2="876.5" stroke-width="0.6"/><line x1="335.0" y1="706.0" x2="164.0" y2="818.0" stroke-width="0.5"/><line x1="371.7" y1="655.6" x2="401.0" y2="697.0" stroke-width="0.6"/><line x1="371.7" y1="655.6" x2="379.0" y2="755.5" stroke-width="0.5"/><line x1="371.7" y1="655.6" x2="157.0" y2="677.6" stroke-width="0.35"/><line x1="371.7" y1="655.6" x2="291.0" y2="632.7" stroke-width="0.35"/><line x1="371.7" y1="655.6" x2="131.8" y2="735.0" stroke-width="0.35"/><line x1="371.7" y1="655.6" x2="242.0" y2="776.8" stroke-width="0.4"/><line x1="371.7" y1="655.6" x2="94.0" y2="633.3" stroke-width="0.3"/><line x1="371.7" y1="655.6" x2="38.2" y2="666.8" stroke-width="0.3"/><line x1="371.7" y1="655.6" x2="63.5" y2="708.0" stroke-width="0.3"/><line x1="379.0" y1="755.5" x2="401.0" y2="697.0" stroke-width="0.6"/><line x1="379.0" y1="755.5" x2="316.6" y2="809.5" stroke-width="0.8"/><line x1="379.0" y1="755.5" x2="378.0" y2="830.0" stroke-width="0.7"/><line x1="379.0" y1="755.5" x2="267.6" y2="876.5" stroke-width="0.6"/><line x1="379.0" y1="755.5" x2="242.0" y2="776.8" stroke-width="0.6"/><line x1="379.0" y1="755.5" x2="240.5" y2="814.6" stroke-width="0.5"/><line x1="379.0" y1="755.5" x2="164.0" y2="818.0" stroke-width="0.4"/><line x1="242.0" y1="776.8" x2="240.5" y2="814.6" stroke-width="0.8"/><line x1="242.0" y1="776.8" x2="316.6" y2="809.5" stroke-width="0.9"/><line x1="242.0" y1="776.8" x2="267.6" y2="876.5" stroke-width="0.7"/><line x1="242.0" y1="776.8" x2="175.7" y2="880.5" stroke-width="0.7"/><line x1="242.0" y1="776.8" x2="87.0" y2="853.5" stroke-width="0.6"/><line x1="242.0" y1="776.8" x2="164.0" y2="818.0" stroke-width="0.5"/><line x1="242.0" y1="776.8" x2="91.0" y2="802.8" stroke-width="1.0"/><line x1="242.0" y1="776.8" x2="378.0" y2="830.0" stroke-width="0.5"/><line x1="242.0" y1="776.8" x2="131.8" y2="735.0" stroke-width="1.0"/><line x1="316.6" y1="809.5" x2="267.6" y2="876.5" stroke-width="1.0"/><line x1="316.6" y1="809.5" x2="240.5" y2="814.6" stroke-width="0.5"/><line x1="316.6" y1="809.5" x2="378.0" y2="830.0" stroke-width="0.6"/><line x1="316.6" y1="809.5" x2="175.7" y2="880.5" stroke-width="0.4"/><line x1="240.5" y1="814.6" x2="267.6" y2="876.5" stroke-width="0.6"/><line x1="240.5" y1="814.6" x2="175.7" y2="880.5" stroke-width="0.5"/><line x1="240.5" y1="814.6" x2="378.0" y2="830.0" stroke-width="0.6"/><line x1="240.5" y1="814.6" x2="87.0" y2="853.5" stroke-width="0.4"/><line x1="378.0" y1="830.0" x2="164.0" y2="818.0" stroke-width="0.6"/><line x1="378.0" y1="830.0" x2="267.6" y2="876.5" stroke-width="0.4"/><line x1="91.0" y1="802.8" x2="131.8" y2="735.0" stroke-width="0.6"/><line x1="131.8" y1="735.0" x2="164.0" y2="818.0" stroke-width="0.4"/><line x1="175.7" y1="880.5" x2="164.0" y2="818.0" stroke-width="0.4"/><line x1="175.7" y1="880.5" x2="267.6" y2="876.5" stroke-width="0.4"/></g>
<circle cx="94.0" cy="633.3" r="6.3" fill="#f8c4c8"/>
<circle cx="38.2" cy="666.8" r="7.6" fill="#f8c4c8"/>
<circle cx="63.5" cy="708.0" r="6.6" fill="#f8c4c8"/>
<circle cx="157.0" cy="677.6" r="6.6" fill="#f8c4c8"/>
<circle cx="208.0" cy="630.0" r="11.1" fill="#f8c4c8"/>
<circle cx="291.0" cy="632.7" r="5.6" fill="#f8c4c8"/>
<circle cx="371.7" cy="655.6" r="6.1" fill="#f03434"/>
<circle cx="277.0" cy="694.5" r="12.6" fill="#f8c4c8"/>
<circle cx="335.0" cy="706.0" r="12.6" fill="#f8c4c8"/>
<circle cx="401.0" cy="697.0" r="7.6" fill="#f8c4c8"/>
<circle cx="131.8" cy="735.0" r="12.6" fill="#f8c4c8"/>
<circle cx="209.5" cy="730.0" r="12.6" fill="#f8c4c8"/>
<circle cx="52.4" cy="763.0" r="6.6" fill="#f8c4c8"/>
<circle cx="91.0" cy="802.8" r="9.6" fill="#f8c4c8"/>
<circle cx="164.0" cy="818.0" r="5.6" fill="#f8c4c8"/>
<circle cx="87.0" cy="853.5" r="6.6" fill="#f03434"/>
<circle cx="175.7" cy="880.5" r="8.6" fill="#f8c4c8"/>
<circle cx="296.0" cy="750.4" r="13.6" fill="#f8c4c8"/>
<circle cx="379.0" cy="755.5" r="11.6" fill="#f8c4c8"/>
<circle cx="242.0" cy="776.8" r="13.6" fill="#f8c4c8"/>
<circle cx="240.5" cy="814.6" r="6.1" fill="#f03434"/>
<circle cx="316.6" cy="809.5" r="8.1" fill="#f03434"/>
<circle cx="378.0" cy="830.0" r="7.6" fill="#f8c4c8"/>
<circle cx="267.6" cy="876.5" r="6.1" fill="#f03434"/>
<g font-size="10.6" font-weight="bold" text-anchor="middle" fill="#1e1e1e" stroke="#1e1e1e" stroke-width="0.2"><text transform="translate(93.0,603.6) scale(0.775,1)">INNATE IMMUNE</text><text transform="translate(93.0,614.8) scale(0.775,1)">RESPONSE</text><text transform="translate(93.0,625.9) scale(0.775,1)">ACTIVATING CELL</text><text transform="translate(93.0,637.1) scale(0.775,1)">SURFACE</text><text transform="translate(93.0,648.2) scale(0.775,1)">RECEPTOR</text><text transform="translate(93.0,659.4) scale(0.775,1)">SIGNALING</text><text transform="translate(93.0,670.5) scale(0.775,1)">PATHWAY</text><text transform="translate(37.2,660.4) scale(0.775,1)">FC RECEPTOR</text><text transform="translate(37.2,671.5) scale(0.775,1)">SIGNALING</text><text transform="translate(37.2,682.7) scale(0.775,1)">PATHWAY</text><text transform="translate(61.8,701.3) scale(0.775,1)">T CELL RECEPTOR</text><text transform="translate(61.8,712.5) scale(0.775,1)">SIGNALING</text><text transform="translate(61.8,723.6) scale(0.775,1)">PATHWAY</text><text transform="translate(156.0,664.1) scale(0.775,1)">FC EPSILON</text><text transform="translate(156.0,675.2) scale(0.775,1)">RECEPTOR</text><text transform="translate(156.0,686.4) scale(0.775,1)">SIGNALING</text><text transform="translate(156.0,697.6) scale(0.775,1)">PATHWAY</text><text transform="translate(206.7,624.3) scale(0.775,1)">REGULATION OF</text><text transform="translate(206.7,635.5) scale(0.775,1)">IMMUNE</text><text transform="translate(206.7,646.6) scale(0.775,1)">RESPONSE</text><text transform="translate(290.2,614.7) scale(0.775,1)">ANTIGEN</text><text transform="translate(290.2,625.9) scale(0.775,1)">PROCESSING AND</text><text transform="translate(290.2,637.0) scale(0.775,1)">PRESENTATION OF</text><text transform="translate(290.2,648.2) scale(0.775,1)">PEPTIDE ANTIGEN</text><text transform="translate(290.2,659.3) scale(0.775,1)">VIA MHC CLASS I</text><text transform="translate(371.0,642.7) scale(0.775,1)">INTERLEUKIN 1</text><text transform="translate(371.0,653.9) scale(0.775,1)">MEDIATED</text><text transform="translate(371.0,665.0) scale(0.775,1)">SIGNALING</text><text transform="translate(371.0,676.2) scale(0.775,1)">PATHWAY</text><text transform="translate(275.7,682.1) scale(0.775,1)">POSITIVE</text><text transform="translate(275.7,693.2) scale(0.775,1)">REGULATION OF</text><text transform="translate(275.7,704.4) scale(0.775,1)">IMMUNE</text><text transform="translate(275.7,715.6) scale(0.775,1)">RESPONSE</text><text transform="translate(334.5,704.4) scale(0.775,1)">RESPONSE TO</text><text transform="translate(334.5,715.5) scale(0.775,1)">CYTOKINE</text><text transform="translate(399.0,694.8) scale(0.775,1)">RESPONSE TO</text><text transform="translate(399.0,706.0) scale(0.775,1)">INTERLEUKIN 1</text><text transform="translate(131.0,723.7) scale(0.775,1)">POSITIVE</text><text transform="translate(131.0,734.9) scale(0.775,1)">REGULATION OF</text><text transform="translate(131.0,746.0) scale(0.775,1)">IMMUNE SYSTEM</text><text transform="translate(131.0,757.2) scale(0.775,1)">PROCESS</text><text transform="translate(209.0,726.7) scale(0.775,1)">INNATE IMMUNE</text><text transform="translate(209.0,737.9) scale(0.775,1)">RESPONSE</text><text transform="translate(51.7,755.9) scale(0.775,1)">REGULATION OF</text><text transform="translate(51.7,767.0) scale(0.775,1)">ADAPTIVE IMMUNE</text><text transform="translate(51.7,778.2) scale(0.775,1)">RESPONSE</text><text transform="translate(90.2,795.4) scale(0.775,1)">ACTIVATION OF</text><text transform="translate(90.2,806.5) scale(0.775,1)">INNATE IMMUNE</text><text transform="translate(90.2,817.7) scale(0.775,1)">RESPONSE</text><text transform="translate(163.0,799.1) scale(0.775,1)">POSITIVE</text><text transform="translate(163.0,810.2) scale(0.775,1)">REGULATION OF</text><text transform="translate(163.0,821.4) scale(0.775,1)">RESPONSE TO</text><text transform="translate(163.0,832.6) scale(0.775,1)">CYTOKINE</text><text transform="translate(163.0,843.7) scale(0.775,1)">STIMULUS</text><text transform="translate(86.5,846.4) scale(0.775,1)">TYPE I</text><text transform="translate(86.5,857.5) scale(0.775,1)">INTERFERON</text><text transform="translate(86.5,868.7) scale(0.775,1)">PRODUCTION</text><text transform="translate(174.7,873.2) scale(0.775,1)">DEFENSE</text><text transform="translate(174.7,884.4) scale(0.775,1)">RESPONSE TO</text><text transform="translate(174.7,895.5) scale(0.775,1)">VIRUS</text><text transform="translate(296.3,742.1) scale(0.775,1)">REGULATION OF</text><text transform="translate(296.3,753.2) scale(0.775,1)">IMMUNE SYSTEM</text><text transform="translate(296.3,764.4) scale(0.775,1)">PROCESS</text><text transform="translate(379.0,743.4) scale(0.775,1)">CYTOKINE</text><text transform="translate(379.0,754.5) scale(0.775,1)">MEDIATED</text><text transform="translate(379.0,765.7) scale(0.775,1)">SIGNALING</text><text transform="translate(379.0,776.9) scale(0.775,1)">PATHWAY</text><text transform="translate(242.2,774.5) scale(0.775,1)">DEFENSE</text><text transform="translate(242.2,785.6) scale(0.775,1)">RESPONSE</text><text transform="translate(239.5,807.2) scale(0.775,1)">RESPONSE TO</text><text transform="translate(239.5,818.4) scale(0.775,1)">TYPE I</text><text transform="translate(239.5,829.5) scale(0.775,1)">INTERFERON</text><text transform="translate(315.0,801.5) scale(0.775,1)">RESPONSE TO</text><text transform="translate(315.0,812.6) scale(0.775,1)">INTERFERON</text><text transform="translate(315.0,823.8) scale(0.775,1)">GAMMA</text><text transform="translate(377.4,817.1) scale(0.775,1)">REGULATION OF</text><text transform="translate(377.4,828.2) scale(0.775,1)">RESPONSE TO</text><text transform="translate(377.4,839.4) scale(0.775,1)">CYTOKINE</text><text transform="translate(377.4,850.6) scale(0.775,1)">STIMULUS</text><text transform="translate(266.6,864.4) scale(0.775,1)">INTERFERON</text><text transform="translate(266.6,875.5) scale(0.775,1)">GAMMA MEDIATED</text><text transform="translate(266.6,886.7) scale(0.775,1)">SIGNALING</text><text transform="translate(266.6,897.9) scale(0.775,1)">PATHWAY</text></g>
</g>
</svg>
</body></html>
